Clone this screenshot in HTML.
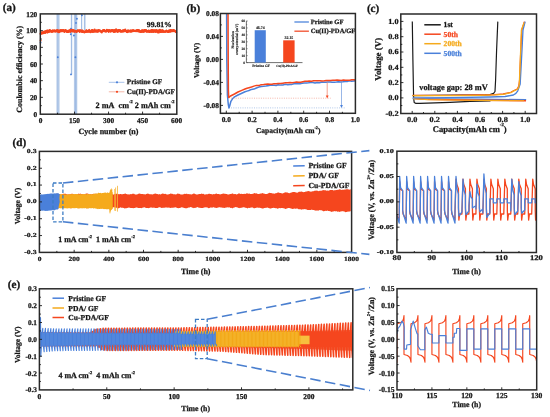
<!DOCTYPE html>
<html><head><meta charset="utf-8"><style>
html,body{margin:0;padding:0;background:#fff;width:550px;height:417px;overflow:hidden;font-family:"Liberation Serif",serif;}
svg{display:block;filter:blur(0.35px);} text{text-rendering:geometricPrecision;}
</style></head><body>
<svg width="550" height="417" viewBox="0 0 550 417">
<rect width="550" height="417" fill="#fff"/>
<text x="9.25" y="8.45" font-size="11.2" text-anchor="middle" dominant-baseline="central" fill="#151515" stroke="#151515" stroke-width="0.3" font-family="Liberation Serif" font-weight="bold">(a)</text>
<rect x="56.4" y="13.9" width="3.20" height="100.10" fill="#bdd0ea"/>
<rect x="70.8" y="13.9" width="1.50" height="60.70" fill="#bdd0ea"/>
<rect x="73.9" y="13.9" width="3.40" height="100.10" fill="#bdd0ea"/>
<rect x="81.0" y="13.9" width="1.20" height="16.10" fill="#bdd0ea"/>
<rect x="83.9" y="13.9" width="1.60" height="16.10" fill="#bdd0ea"/>
<line x1="57.90" y1="13.90" x2="57.90" y2="114.00" stroke="#8fb0e0" stroke-width="0.6" />
<line x1="71.50" y1="13.90" x2="71.50" y2="74.60" stroke="#8fb0e0" stroke-width="0.6" />
<line x1="75.20" y1="13.90" x2="75.20" y2="114.00" stroke="#8fb0e0" stroke-width="0.6" />
<line x1="76.00" y1="13.90" x2="76.00" y2="114.00" stroke="#8fb0e0" stroke-width="0.6" />
<line x1="81.60" y1="13.90" x2="81.60" y2="30.00" stroke="#8fb0e0" stroke-width="0.6" />
<line x1="84.70" y1="13.90" x2="84.70" y2="30.00" stroke="#8fb0e0" stroke-width="0.6" />
<circle cx="57.80" cy="57.20" r="0.95" fill="#4a80da"/>
<circle cx="71.00" cy="74.40" r="0.95" fill="#4a80da"/>
<circle cx="75.40" cy="57.30" r="0.95" fill="#4a80da"/>
<circle cx="76.90" cy="18.80" r="0.95" fill="#4a80da"/>
<circle cx="76.00" cy="22.90" r="0.95" fill="#4a80da"/>
<circle cx="81.90" cy="15.20" r="0.95" fill="#4a80da"/>
<circle cx="71.00" cy="28.80" r="0.95" fill="#4a80da"/>
<circle cx="70.80" cy="34.30" r="0.95" fill="#4a80da"/>
<circle cx="73.90" cy="35.50" r="0.95" fill="#4a80da"/>
<circle cx="40.60" cy="42.40" r="0.95" fill="#4a80da"/>
<path d="M40.50,33.55 40.84,33.92 41.18,32.30 41.52,33.49 41.86,32.42 42.20,32.73 42.54,33.33 42.88,32.30 43.22,33.25 43.56,32.33 43.90,33.06 44.24,32.95 44.58,32.16 44.92,31.23 45.26,32.69 45.60,32.41 45.94,31.47 46.28,30.72 46.62,31.46 46.96,31.79 47.30,30.47 47.65,32.42 47.99,30.60 48.33,31.77 48.67,32.02 49.01,32.02 49.35,31.54 49.69,30.32 50.03,31.69 50.37,30.82 50.71,30.70 51.05,31.28 51.39,30.90 51.73,31.95 52.07,31.95 52.41,31.64 52.75,30.61 53.09,31.16 53.43,31.40 53.77,30.81 54.11,31.10 54.45,31.43 54.79,30.36 55.13,30.57 55.47,31.55 55.81,30.84 56.15,30.95 56.49,30.19 56.83,30.50 57.17,31.46 57.51,29.96 57.85,31.83 58.19,31.18 58.53,30.44 58.87,31.75 59.21,31.02 59.55,32.00 59.89,30.64 60.23,30.43 60.57,30.84 60.91,30.19 61.26,31.40 61.60,30.58 61.94,30.80 62.28,30.83 62.62,31.09 62.96,30.26 63.30,30.04 63.64,31.06 63.98,30.64 64.32,31.95 64.66,30.56 65.00,30.68 65.34,29.93 65.68,30.30 66.02,31.47 66.36,31.25 66.70,30.63 67.04,32.03 67.38,31.08 67.72,31.72 68.06,31.83 68.40,31.96 68.74,30.42 69.08,31.80 69.42,31.55 69.76,31.24 70.10,30.20 70.44,31.91 70.78,31.11 71.12,30.89 71.46,30.17 71.80,30.31 72.14,30.21 72.48,31.48 72.82,31.18 73.16,31.31 73.50,30.17 73.84,30.01 74.18,31.76 74.53,31.70 74.87,31.58 75.21,31.58 75.55,31.03 75.89,30.81 76.23,31.51 76.57,32.07 76.91,31.18 77.25,31.28 77.59,30.86 77.93,30.02 78.27,30.59 78.61,30.97 78.95,30.75 79.29,30.62 79.63,31.97 79.97,30.13 80.31,30.39 80.65,30.19 80.99,30.35 81.33,31.23 81.67,31.22 82.01,31.86 82.35,30.71 82.69,31.95 83.03,31.94 83.37,31.63 83.71,31.73 84.05,31.35 84.39,31.97 84.73,32.08 85.07,31.76 85.41,31.86 85.75,31.30 86.09,32.03 86.43,30.19 86.77,30.75 87.11,31.76 87.45,31.54 87.79,31.33 88.13,31.29 88.48,31.82 88.82,30.24 89.16,29.93 89.50,31.07 89.84,31.04 90.18,31.90 90.52,31.86 90.86,31.34 91.20,31.51 91.54,30.29 91.88,31.73 92.22,32.03 92.56,30.02 92.90,30.94 93.24,31.77 93.58,30.91 93.92,32.02 94.26,30.94 94.60,29.96 94.94,30.21 95.28,30.57 95.62,31.52 95.96,31.29 96.30,31.72 96.64,30.41 96.98,30.93 97.32,30.40 97.66,31.37 98.00,31.60 98.34,30.33 98.68,29.95 99.02,30.24 99.36,30.34 99.70,30.31 100.04,30.48 100.38,31.59 100.72,30.96 101.06,31.31 101.40,32.02 101.75,32.02 102.09,31.48 102.43,31.52 102.77,30.58 103.11,30.01 103.45,31.11 103.79,30.05 104.13,29.94 104.47,30.01 104.81,31.29 105.15,31.61 105.49,31.59 105.83,31.66 106.17,31.64 106.51,30.73 106.85,30.13 107.19,30.26 107.53,31.04 107.87,30.67 108.21,30.35 108.55,31.90 108.89,30.65 109.23,30.11 109.57,30.39 109.91,30.46 110.25,31.05 110.59,31.70 110.93,30.37 111.27,31.36 111.61,30.35 111.95,29.98 112.29,31.23 112.63,31.21 112.97,30.03 113.31,30.51 113.65,31.71 113.99,31.81 114.33,31.76 114.67,30.12 115.01,30.34 115.36,31.77 115.70,30.29 116.04,29.96 116.38,30.66 116.72,31.32 117.06,30.89 117.40,31.80 117.74,32.05 118.08,29.98 118.42,30.68 118.76,30.94 119.10,30.06 119.44,31.14 119.78,30.19 120.12,30.29 120.46,31.63 120.80,31.54 121.14,31.45 121.48,31.56 121.82,30.81 122.16,31.52 122.50,31.18 122.84,31.80 123.18,30.11 123.52,31.32 123.86,31.09 124.20,30.82 124.54,30.12 124.88,31.17 125.22,30.09 125.56,31.00 125.90,30.93 126.24,30.95 126.58,32.04 126.92,31.13 127.26,31.69 127.60,32.07 127.94,30.35 128.28,31.71 128.62,31.06 128.97,30.51 129.31,30.88 129.65,31.38 129.99,30.96 130.33,30.88 130.67,30.38 131.01,31.85 131.35,30.87 131.69,31.54 132.03,31.48 132.37,30.41 132.71,30.98 133.05,30.87 133.39,30.44 133.73,30.11 134.07,31.12 134.41,30.76 134.75,30.99 135.09,30.97 135.43,30.58 135.77,31.10 136.11,30.93 136.45,31.05 136.79,30.04 137.13,30.57 137.47,30.18 137.81,30.04 138.15,31.52 138.49,30.87 138.83,30.04 139.17,30.26 139.51,31.79 139.85,31.82 140.19,31.13 140.53,31.93 140.87,31.56 141.21,31.92 141.55,30.63 141.89,30.38 142.23,30.14 142.57,31.75 142.92,30.53 143.26,30.65 143.60,31.77 143.94,30.17 144.28,29.99 144.62,31.61 144.96,30.02 145.30,31.22 145.64,31.03 145.98,29.94 146.32,30.28 146.66,31.73 147.00,31.15 147.34,30.97 147.68,31.35 148.02,31.66 148.36,31.39 148.70,30.52 149.04,32.04 149.38,30.88 149.72,31.13 150.06,32.04 150.40,31.37 150.74,30.73 151.08,30.97 151.42,31.94 151.76,29.95 152.10,30.38 152.44,29.98 152.78,31.86 153.12,31.51 153.46,32.00 153.80,30.40 154.14,31.50 154.48,31.80 154.82,31.17 155.16,30.11 155.50,30.31 155.84,31.52 156.19,31.76 156.53,30.09 156.87,30.85 157.21,30.57 157.55,31.89 157.89,31.96 158.23,30.59 158.57,31.16 158.91,31.93 159.25,30.05 159.59,30.71 159.93,30.35 160.27,31.90 160.61,30.23 160.95,31.94 161.29,30.21 161.63,31.10 161.97,31.35 162.31,30.89 162.65,30.08 162.99,31.50 163.33,31.80 163.67,30.94 164.01,31.57 164.35,31.85 164.69,31.73 165.03,31.97 165.37,31.65 165.71,31.41 166.05,31.42 166.39,30.44 166.73,31.46 167.07,31.00 167.41,31.70 167.75,31.33 168.09,32.04 168.43,31.54 168.77,32.05 169.11,30.49 169.45,30.89 169.79,31.67 170.14,31.05 170.48,30.06 170.82,31.85 171.16,30.31 171.50,31.15 171.84,31.01 172.18,30.28 172.52,31.23 172.86,30.99 173.20,30.59 173.54,29.95 173.88,31.34 174.22,30.28 174.56,30.55 174.90,30.71 175.24,31.21 175.58,31.33 175.92,31.97 176.26,31.80 176.60,31.93" stroke="#f5461e" stroke-width="2.0" fill="none" stroke-linejoin="round" />
<circle cx="40.50" cy="33.84" r="1.0" fill="#f5461e"/>
<circle cx="41.52" cy="33.20" r="1.0" fill="#f5461e"/>
<circle cx="42.54" cy="32.93" r="1.0" fill="#f5461e"/>
<circle cx="43.56" cy="31.83" r="1.0" fill="#f5461e"/>
<circle cx="44.58" cy="32.57" r="1.0" fill="#f5461e"/>
<circle cx="45.60" cy="32.86" r="1.0" fill="#f5461e"/>
<circle cx="46.62" cy="31.66" r="1.0" fill="#f5461e"/>
<circle cx="47.65" cy="32.16" r="1.0" fill="#f5461e"/>
<circle cx="48.67" cy="31.71" r="1.0" fill="#f5461e"/>
<circle cx="49.69" cy="30.07" r="1.0" fill="#f5461e"/>
<circle cx="50.71" cy="30.65" r="1.0" fill="#f5461e"/>
<circle cx="51.73" cy="31.54" r="1.0" fill="#f5461e"/>
<circle cx="52.75" cy="30.54" r="1.0" fill="#f5461e"/>
<circle cx="53.77" cy="30.53" r="1.0" fill="#f5461e"/>
<circle cx="54.79" cy="30.92" r="1.0" fill="#f5461e"/>
<circle cx="55.81" cy="31.41" r="1.0" fill="#f5461e"/>
<circle cx="56.83" cy="30.56" r="1.0" fill="#f5461e"/>
<circle cx="57.85" cy="31.52" r="1.0" fill="#f5461e"/>
<circle cx="58.87" cy="32.31" r="1.0" fill="#f5461e"/>
<circle cx="59.89" cy="30.41" r="1.0" fill="#f5461e"/>
<circle cx="60.91" cy="30.01" r="1.0" fill="#f5461e"/>
<circle cx="61.94" cy="30.20" r="1.0" fill="#f5461e"/>
<circle cx="62.96" cy="30.12" r="1.0" fill="#f5461e"/>
<circle cx="63.98" cy="30.61" r="1.0" fill="#f5461e"/>
<circle cx="65.00" cy="30.68" r="1.0" fill="#f5461e"/>
<circle cx="66.02" cy="31.11" r="1.0" fill="#f5461e"/>
<circle cx="67.04" cy="32.04" r="1.0" fill="#f5461e"/>
<circle cx="68.06" cy="31.24" r="1.0" fill="#f5461e"/>
<circle cx="69.08" cy="31.52" r="1.0" fill="#f5461e"/>
<circle cx="70.10" cy="29.70" r="1.0" fill="#f5461e"/>
<circle cx="71.12" cy="30.77" r="1.0" fill="#f5461e"/>
<circle cx="72.14" cy="29.66" r="1.0" fill="#f5461e"/>
<circle cx="73.16" cy="30.73" r="1.0" fill="#f5461e"/>
<circle cx="74.18" cy="31.52" r="1.0" fill="#f5461e"/>
<circle cx="75.21" cy="31.26" r="1.0" fill="#f5461e"/>
<circle cx="76.23" cy="31.62" r="1.0" fill="#f5461e"/>
<circle cx="77.25" cy="31.32" r="1.0" fill="#f5461e"/>
<circle cx="78.27" cy="30.89" r="1.0" fill="#f5461e"/>
<circle cx="79.29" cy="30.81" r="1.0" fill="#f5461e"/>
<circle cx="80.31" cy="30.65" r="1.0" fill="#f5461e"/>
<circle cx="81.33" cy="31.69" r="1.0" fill="#f5461e"/>
<circle cx="82.35" cy="30.58" r="1.0" fill="#f5461e"/>
<circle cx="83.37" cy="31.42" r="1.0" fill="#f5461e"/>
<circle cx="84.39" cy="32.55" r="1.0" fill="#f5461e"/>
<circle cx="85.41" cy="31.44" r="1.0" fill="#f5461e"/>
<circle cx="86.43" cy="30.46" r="1.0" fill="#f5461e"/>
<circle cx="87.45" cy="31.71" r="1.0" fill="#f5461e"/>
<circle cx="88.48" cy="31.27" r="1.0" fill="#f5461e"/>
<circle cx="89.50" cy="31.48" r="1.0" fill="#f5461e"/>
<circle cx="90.52" cy="32.33" r="1.0" fill="#f5461e"/>
<circle cx="91.54" cy="30.44" r="1.0" fill="#f5461e"/>
<circle cx="92.56" cy="30.30" r="1.0" fill="#f5461e"/>
<circle cx="93.58" cy="31.28" r="1.0" fill="#f5461e"/>
<circle cx="94.60" cy="29.53" r="1.0" fill="#f5461e"/>
<circle cx="95.62" cy="31.55" r="1.0" fill="#f5461e"/>
<circle cx="96.64" cy="30.42" r="1.0" fill="#f5461e"/>
<circle cx="97.66" cy="31.77" r="1.0" fill="#f5461e"/>
<circle cx="98.68" cy="30.31" r="1.0" fill="#f5461e"/>
<circle cx="99.70" cy="30.70" r="1.0" fill="#f5461e"/>
<circle cx="100.72" cy="31.06" r="1.0" fill="#f5461e"/>
<circle cx="101.75" cy="32.49" r="1.0" fill="#f5461e"/>
<circle cx="102.77" cy="30.80" r="1.0" fill="#f5461e"/>
<circle cx="103.79" cy="30.29" r="1.0" fill="#f5461e"/>
<circle cx="104.81" cy="30.97" r="1.0" fill="#f5461e"/>
<circle cx="105.83" cy="31.09" r="1.0" fill="#f5461e"/>
<circle cx="106.85" cy="29.69" r="1.0" fill="#f5461e"/>
<circle cx="107.87" cy="30.50" r="1.0" fill="#f5461e"/>
<circle cx="108.89" cy="30.18" r="1.0" fill="#f5461e"/>
<circle cx="109.91" cy="30.86" r="1.0" fill="#f5461e"/>
<circle cx="110.93" cy="30.44" r="1.0" fill="#f5461e"/>
<circle cx="111.95" cy="30.13" r="1.0" fill="#f5461e"/>
<circle cx="112.97" cy="30.18" r="1.0" fill="#f5461e"/>
<circle cx="113.99" cy="32.02" r="1.0" fill="#f5461e"/>
<circle cx="115.01" cy="30.32" r="1.0" fill="#f5461e"/>
<circle cx="116.04" cy="29.36" r="1.0" fill="#f5461e"/>
<circle cx="117.06" cy="31.25" r="1.0" fill="#f5461e"/>
<circle cx="118.08" cy="30.28" r="1.0" fill="#f5461e"/>
<circle cx="119.10" cy="30.06" r="1.0" fill="#f5461e"/>
<circle cx="120.12" cy="30.34" r="1.0" fill="#f5461e"/>
<circle cx="121.14" cy="31.64" r="1.0" fill="#f5461e"/>
<circle cx="122.16" cy="31.00" r="1.0" fill="#f5461e"/>
<circle cx="123.18" cy="30.40" r="1.0" fill="#f5461e"/>
<circle cx="124.20" cy="30.52" r="1.0" fill="#f5461e"/>
<circle cx="125.22" cy="29.58" r="1.0" fill="#f5461e"/>
<circle cx="126.24" cy="30.67" r="1.0" fill="#f5461e"/>
<circle cx="127.26" cy="31.96" r="1.0" fill="#f5461e"/>
<circle cx="128.28" cy="31.36" r="1.0" fill="#f5461e"/>
<circle cx="129.31" cy="31.17" r="1.0" fill="#f5461e"/>
<circle cx="130.33" cy="31.45" r="1.0" fill="#f5461e"/>
<circle cx="131.35" cy="30.86" r="1.0" fill="#f5461e"/>
<circle cx="132.37" cy="30.27" r="1.0" fill="#f5461e"/>
<circle cx="133.39" cy="30.41" r="1.0" fill="#f5461e"/>
<circle cx="134.41" cy="30.98" r="1.0" fill="#f5461e"/>
<circle cx="135.43" cy="30.90" r="1.0" fill="#f5461e"/>
<circle cx="136.45" cy="31.19" r="1.0" fill="#f5461e"/>
<circle cx="137.47" cy="30.36" r="1.0" fill="#f5461e"/>
<circle cx="138.49" cy="30.36" r="1.0" fill="#f5461e"/>
<circle cx="139.51" cy="31.36" r="1.0" fill="#f5461e"/>
<circle cx="140.53" cy="31.63" r="1.0" fill="#f5461e"/>
<circle cx="141.55" cy="30.92" r="1.0" fill="#f5461e"/>
<circle cx="142.57" cy="31.51" r="1.0" fill="#f5461e"/>
<circle cx="143.60" cy="31.85" r="1.0" fill="#f5461e"/>
<circle cx="144.62" cy="31.02" r="1.0" fill="#f5461e"/>
<circle cx="145.64" cy="30.50" r="1.0" fill="#f5461e"/>
<circle cx="146.66" cy="31.46" r="1.0" fill="#f5461e"/>
<circle cx="147.68" cy="31.55" r="1.0" fill="#f5461e"/>
<circle cx="148.70" cy="30.75" r="1.0" fill="#f5461e"/>
<circle cx="149.72" cy="31.34" r="1.0" fill="#f5461e"/>
<circle cx="150.74" cy="30.48" r="1.0" fill="#f5461e"/>
<circle cx="151.76" cy="29.97" r="1.0" fill="#f5461e"/>
<circle cx="152.78" cy="31.81" r="1.0" fill="#f5461e"/>
<circle cx="153.80" cy="30.36" r="1.0" fill="#f5461e"/>
<circle cx="154.82" cy="30.71" r="1.0" fill="#f5461e"/>
<circle cx="155.84" cy="32.00" r="1.0" fill="#f5461e"/>
<circle cx="156.87" cy="30.49" r="1.0" fill="#f5461e"/>
<circle cx="157.89" cy="32.53" r="1.0" fill="#f5461e"/>
<circle cx="158.91" cy="32.45" r="1.0" fill="#f5461e"/>
<circle cx="159.93" cy="29.77" r="1.0" fill="#f5461e"/>
<circle cx="160.95" cy="31.89" r="1.0" fill="#f5461e"/>
<circle cx="161.97" cy="31.73" r="1.0" fill="#f5461e"/>
<circle cx="162.99" cy="32.06" r="1.0" fill="#f5461e"/>
<circle cx="164.01" cy="31.51" r="1.0" fill="#f5461e"/>
<circle cx="165.03" cy="31.70" r="1.0" fill="#f5461e"/>
<circle cx="166.05" cy="31.07" r="1.0" fill="#f5461e"/>
<circle cx="167.07" cy="31.53" r="1.0" fill="#f5461e"/>
<circle cx="168.09" cy="31.70" r="1.0" fill="#f5461e"/>
<circle cx="169.11" cy="30.59" r="1.0" fill="#f5461e"/>
<circle cx="170.14" cy="30.62" r="1.0" fill="#f5461e"/>
<circle cx="171.16" cy="30.34" r="1.0" fill="#f5461e"/>
<circle cx="172.18" cy="30.82" r="1.0" fill="#f5461e"/>
<circle cx="173.20" cy="30.15" r="1.0" fill="#f5461e"/>
<circle cx="174.22" cy="30.66" r="1.0" fill="#f5461e"/>
<circle cx="175.24" cy="31.22" r="1.0" fill="#f5461e"/>
<circle cx="176.26" cy="32.27" r="1.0" fill="#f5461e"/>
<circle cx="40.6" cy="40.6" r="1" fill="#f5461e"/>
<rect x="40.30" y="13.90" width="136.50" height="100.30" fill="none" stroke="#2a2a2a" stroke-width="1.5"/>
<path d="M57.51,114.20v-1.5M74.53,114.20v-2.6M91.54,114.20v-1.5M108.55,114.20v-2.6M125.56,114.20v-1.5M142.57,114.20v-2.6M159.59,114.20v-1.5M40.30,105.67h1.5M40.30,97.33h2.6M40.30,89.00h1.5M40.30,80.67h2.6M40.30,72.33h1.5M40.30,64.00h2.6M40.30,55.67h1.5M40.30,47.33h2.6M40.30,39.00h1.5M40.30,30.67h2.6M40.30,22.33h1.5" stroke="#1a1a1a" stroke-width="0.9" fill="none"/>
<text x="40.50" y="120.30" font-size="7.4" text-anchor="middle" dominant-baseline="central" fill="#151515" stroke="#151515" stroke-width="0.25" font-family="Liberation Serif" font-weight="bold">0</text>
<text x="74.53" y="120.30" font-size="7.4" text-anchor="middle" dominant-baseline="central" fill="#151515" stroke="#151515" stroke-width="0.25" font-family="Liberation Serif" font-weight="bold">150</text>
<text x="108.55" y="120.30" font-size="7.4" text-anchor="middle" dominant-baseline="central" fill="#151515" stroke="#151515" stroke-width="0.25" font-family="Liberation Serif" font-weight="bold">300</text>
<text x="142.57" y="120.30" font-size="7.4" text-anchor="middle" dominant-baseline="central" fill="#151515" stroke="#151515" stroke-width="0.25" font-family="Liberation Serif" font-weight="bold">450</text>
<text x="176.60" y="120.30" font-size="7.4" text-anchor="middle" dominant-baseline="central" fill="#151515" stroke="#151515" stroke-width="0.25" font-family="Liberation Serif" font-weight="bold">600</text>
<text x="37.30" y="114.00" font-size="7.4" text-anchor="end" dominant-baseline="central" fill="#151515" stroke="#151515" stroke-width="0.25" font-family="Liberation Serif" font-weight="bold">0</text>
<text x="37.30" y="97.33" font-size="7.4" text-anchor="end" dominant-baseline="central" fill="#151515" stroke="#151515" stroke-width="0.25" font-family="Liberation Serif" font-weight="bold">20</text>
<text x="37.30" y="80.67" font-size="7.4" text-anchor="end" dominant-baseline="central" fill="#151515" stroke="#151515" stroke-width="0.25" font-family="Liberation Serif" font-weight="bold">40</text>
<text x="37.30" y="64.00" font-size="7.4" text-anchor="end" dominant-baseline="central" fill="#151515" stroke="#151515" stroke-width="0.25" font-family="Liberation Serif" font-weight="bold">60</text>
<text x="37.30" y="47.33" font-size="7.4" text-anchor="end" dominant-baseline="central" fill="#151515" stroke="#151515" stroke-width="0.25" font-family="Liberation Serif" font-weight="bold">80</text>
<text x="37.30" y="30.67" font-size="7.4" text-anchor="end" dominant-baseline="central" fill="#151515" stroke="#151515" stroke-width="0.25" font-family="Liberation Serif" font-weight="bold">100</text>
<text x="37.30" y="14.00" font-size="7.4" text-anchor="end" dominant-baseline="central" fill="#151515" stroke="#151515" stroke-width="0.25" font-family="Liberation Serif" font-weight="bold">120</text>
<text x="108.50" y="131.50" font-size="8.0" text-anchor="middle" dominant-baseline="central" fill="#151515" stroke="#151515" stroke-width="0.25" font-family="Liberation Serif" font-weight="bold">Cycle number (n)</text>
<text x="19.70" y="69.30" font-size="8.0" text-anchor="middle" dominant-baseline="central" fill="#151515" stroke="#151515" stroke-width="0.25" font-family="Liberation Serif" font-weight="bold" transform="rotate(-90 19.70 69.30)">Coulombic efficiency (%)</text>
<text x="159.30" y="24.00" font-size="7.7" text-anchor="middle" dominant-baseline="central" fill="#151515" stroke="#151515" stroke-width="0.25" font-family="Liberation Serif" font-weight="bold">99.81%</text>
<line x1="108.80" y1="82.30" x2="124.40" y2="82.30" stroke="#a9c3ea" stroke-width="1.0" />
<circle cx="117" cy="82.3" r="1.1" fill="#4a80da"/>
<line x1="108.80" y1="91.80" x2="124.40" y2="91.80" stroke="#f4b7a8" stroke-width="1.0" />
<circle cx="117" cy="91.8" r="1.1" fill="#f5461e"/>
<text x="126.80" y="82.30" font-size="7.1" text-anchor="start" dominant-baseline="central" fill="#151515" stroke="#151515" stroke-width="0.25" font-family="Liberation Serif" font-weight="bold">Pristine GF</text>
<text x="126.80" y="91.80" font-size="7.1" text-anchor="start" dominant-baseline="central" fill="#151515" stroke="#151515" stroke-width="0.25" font-family="Liberation Serif" font-weight="bold">Cu(II)-PDA/GF</text>
<text x="95.60" y="104.60" font-size="8.2" text-anchor="start" dominant-baseline="central" fill="#151515" stroke="#151515" stroke-width="0.25" font-family="Liberation Serif" font-weight="bold" xml:space="preserve"><tspan>2 mA&#160;&#160;cm</tspan><tspan font-size="4.51" dy="-3.12">-2</tspan><tspan dy="3.12"> 2 mAh cm</tspan><tspan font-size="4.51" dy="-3.12">-2</tspan></text>
<text x="193.35" y="8.95" font-size="11.2" text-anchor="middle" dominant-baseline="central" fill="#151515" stroke="#151515" stroke-width="0.3" font-family="Liberation Serif" font-weight="bold">(b)</text>
<defs><clipPath id="cb"><rect x="220.4" y="13.5" width="134.99999999999997" height="99.8"/></clipPath></defs>
<g clip-path="url(#cb)">
<path d="M226.60,10.00 226.80,60.00 227.40,95.00 228.30,104.50 229.00,108.10 229.80,105.50 230.90,101.30 232.50,98.80 234.50,96.90 238.00,95.00 241.80,93.30 245.00,91.80 247.00,91.10 249.00,90.54 251.47,89.41 253.93,89.08 256.40,87.99 258.80,87.10 261.20,86.52 263.60,86.29 265.73,86.03 267.87,85.69 270.00,85.35 272.05,85.37 274.10,85.22 276.15,85.46 278.20,84.75 280.56,85.12 282.92,85.02 285.28,84.35 287.64,84.76 290.00,84.45 292.00,84.40 294.00,83.79 296.00,83.67 298.00,83.51 300.00,83.75 302.14,83.36 304.29,83.10 306.43,83.05 308.57,82.84 310.71,82.58 312.86,82.52 315.00,82.93 317.14,82.46 319.29,82.83 321.43,82.27 323.57,82.19 325.71,82.28 327.86,81.97 330.00,82.01 332.14,82.32 334.29,82.17 336.43,82.02 338.57,81.79 340.71,81.89 342.86,81.81 345.00,81.43 347.20,81.43 349.40,80.84 351.60,81.20 353.80,80.89 356.00,80.80" stroke="#4a80da" stroke-width="1.5" fill="none" stroke-linejoin="round" />
<path d="M228.00,10.00 228.20,60.00 228.40,90.00 228.70,97.60 230.50,96.00 232.50,95.00 234.50,94.00 238.00,92.00 241.80,90.40 245.00,89.00 247.00,88.25 249.00,87.68 251.47,87.00 253.93,86.15 256.40,85.38 258.80,85.60 261.20,84.64 263.60,84.48 265.73,84.22 267.87,84.03 270.00,84.17 272.05,84.23 274.10,83.63 276.15,83.81 278.20,83.46 280.56,83.46 282.92,83.17 285.28,82.83 287.64,82.64 290.00,82.50 292.14,82.83 294.29,82.38 296.43,82.03 298.57,82.36 300.71,82.26 302.86,81.72 305.00,81.35 307.14,81.27 309.29,81.08 311.43,81.15 313.57,80.86 315.71,80.85 317.86,80.75 320.00,80.85 322.14,81.01 324.29,80.86 326.43,80.57 328.57,80.51 330.71,80.53 332.86,80.37 335.00,80.29 337.10,80.04 339.20,80.14 341.30,80.58 343.40,79.94 345.50,80.15 347.60,80.19 349.70,80.30 351.80,79.80 353.90,79.79 356.00,79.90" stroke="#f5461e" stroke-width="1.5" fill="none" stroke-linejoin="round" />
</g>
<line x1="231.00" y1="98.20" x2="330.70" y2="98.20" stroke="#f09a88" stroke-width="0.7" stroke-dasharray="1,1.3"/>
<line x1="231.00" y1="107.90" x2="344.70" y2="107.90" stroke="#8fb0e0" stroke-width="0.7" stroke-dasharray="1,1.3"/>
<line x1="327.20" y1="82.50" x2="327.20" y2="96.30" stroke="#f07a60" stroke-width="0.7" />
<path d="M325.8,95.4 L327.2,98.4 L328.6,95.4 Z" fill="#f5461e"/>
<line x1="341.50" y1="82.00" x2="341.50" y2="105.80" stroke="#6d98dc" stroke-width="0.7" />
<path d="M340.1,105.0 L341.5,108.0 L342.9,105.0 Z" fill="#4a80da"/>
<rect x="220.40" y="13.50" width="135.00" height="99.80" fill="none" stroke="#2a2a2a" stroke-width="1.5"/>
<path d="M226.30,113.30v-2.6M239.20,113.30v-1.5M252.10,113.30v-2.6M265.00,113.30v-1.5M277.90,113.30v-2.6M290.80,113.30v-1.5M303.70,113.30v-2.6M316.60,113.30v-1.5M329.50,113.30v-2.6M342.40,113.30v-1.5M220.40,105.40h2.6M220.40,93.90h1.5M220.40,82.40h2.6M220.40,70.90h1.5M220.40,59.40h2.6M220.40,47.90h1.5M220.40,36.40h2.6M220.40,24.90h1.5" stroke="#1a1a1a" stroke-width="0.9" fill="none"/>
<text x="226.30" y="119.00" font-size="7.4" text-anchor="middle" dominant-baseline="central" fill="#151515" stroke="#151515" stroke-width="0.25" font-family="Liberation Serif" font-weight="bold">0.0</text>
<text x="252.10" y="119.00" font-size="7.4" text-anchor="middle" dominant-baseline="central" fill="#151515" stroke="#151515" stroke-width="0.25" font-family="Liberation Serif" font-weight="bold">0.2</text>
<text x="277.90" y="119.00" font-size="7.4" text-anchor="middle" dominant-baseline="central" fill="#151515" stroke="#151515" stroke-width="0.25" font-family="Liberation Serif" font-weight="bold">0.4</text>
<text x="303.70" y="119.00" font-size="7.4" text-anchor="middle" dominant-baseline="central" fill="#151515" stroke="#151515" stroke-width="0.25" font-family="Liberation Serif" font-weight="bold">0.6</text>
<text x="329.50" y="119.00" font-size="7.4" text-anchor="middle" dominant-baseline="central" fill="#151515" stroke="#151515" stroke-width="0.25" font-family="Liberation Serif" font-weight="bold">0.8</text>
<text x="355.30" y="119.00" font-size="7.4" text-anchor="middle" dominant-baseline="central" fill="#151515" stroke="#151515" stroke-width="0.25" font-family="Liberation Serif" font-weight="bold">1.0</text>
<text x="218.90" y="105.40" font-size="7.4" text-anchor="end" dominant-baseline="central" fill="#151515" stroke="#151515" stroke-width="0.25" font-family="Liberation Serif" font-weight="bold">-0.08</text>
<text x="218.90" y="82.40" font-size="7.4" text-anchor="end" dominant-baseline="central" fill="#151515" stroke="#151515" stroke-width="0.25" font-family="Liberation Serif" font-weight="bold">-0.04</text>
<text x="218.90" y="59.40" font-size="7.4" text-anchor="end" dominant-baseline="central" fill="#151515" stroke="#151515" stroke-width="0.25" font-family="Liberation Serif" font-weight="bold">0.00</text>
<text x="218.90" y="36.40" font-size="7.4" text-anchor="end" dominant-baseline="central" fill="#151515" stroke="#151515" stroke-width="0.25" font-family="Liberation Serif" font-weight="bold">0.04</text>
<text x="218.90" y="13.40" font-size="7.4" text-anchor="end" dominant-baseline="central" fill="#151515" stroke="#151515" stroke-width="0.25" font-family="Liberation Serif" font-weight="bold">0.08</text>
<text x="288.20" y="129.50" font-size="7.5" text-anchor="middle" dominant-baseline="central" fill="#151515" stroke="#151515" stroke-width="0.25" font-family="Liberation Serif" font-weight="bold" xml:space="preserve"><tspan>Capacity(mAh cm</tspan><tspan font-size="4.125" dy="-2.85">-2</tspan><tspan dy="2.85">)</tspan></text>
<text x="196.80" y="60.40" font-size="7.3" text-anchor="middle" dominant-baseline="central" fill="#151515" stroke="#151515" stroke-width="0.25" font-family="Liberation Serif" font-weight="bold" transform="rotate(-90 196.80 60.40)">Voltage (V)</text>
<line x1="294.40" y1="22.00" x2="308.90" y2="22.00" stroke="#5b8ede" stroke-width="1.4" />
<line x1="294.40" y1="31.20" x2="308.90" y2="31.20" stroke="#f25a3a" stroke-width="1.4" />
<text x="310.70" y="22.60" font-size="6.6" text-anchor="start" dominant-baseline="central" fill="#151515" stroke="#151515" stroke-width="0.25" font-family="Liberation Serif" font-weight="bold">Pristine GF</text>
<text x="310.70" y="31.80" font-size="6.6" text-anchor="start" dominant-baseline="central" fill="#151515" stroke="#151515" stroke-width="0.25" font-family="Liberation Serif" font-weight="bold">Cu(II)-PDA/GF</text>
<path d="M246.4,20.8V62.6H302.5" stroke="#333" stroke-width="0.7" fill="none"/>
<path d="M246.4,62.60h1.4M246.4,55.67h1.4M246.4,48.74h1.4M246.4,41.81h1.4M246.4,34.88h1.4M246.4,27.95h1.4M246.4,21.02h1.4M246.4,59.14h0.8M246.4,52.20h0.8M246.4,45.28h0.8M246.4,38.34h0.8M246.4,31.42h0.8M246.4,24.49h0.8" stroke="#333" stroke-width="0.5" fill="none"/>
<text x="245.10" y="62.60" font-size="3.6" text-anchor="end" dominant-baseline="central" fill="#2a2a2a" stroke="#2a2a2a" stroke-width="0.15" font-family="Liberation Serif" font-weight="bold">0</text>
<text x="245.10" y="55.67" font-size="3.6" text-anchor="end" dominant-baseline="central" fill="#2a2a2a" stroke="#2a2a2a" stroke-width="0.15" font-family="Liberation Serif" font-weight="bold">10</text>
<text x="245.10" y="48.74" font-size="3.6" text-anchor="end" dominant-baseline="central" fill="#2a2a2a" stroke="#2a2a2a" stroke-width="0.15" font-family="Liberation Serif" font-weight="bold">20</text>
<text x="245.10" y="41.81" font-size="3.6" text-anchor="end" dominant-baseline="central" fill="#2a2a2a" stroke="#2a2a2a" stroke-width="0.15" font-family="Liberation Serif" font-weight="bold">30</text>
<text x="245.10" y="34.88" font-size="3.6" text-anchor="end" dominant-baseline="central" fill="#2a2a2a" stroke="#2a2a2a" stroke-width="0.15" font-family="Liberation Serif" font-weight="bold">40</text>
<text x="245.10" y="27.95" font-size="3.6" text-anchor="end" dominant-baseline="central" fill="#2a2a2a" stroke="#2a2a2a" stroke-width="0.15" font-family="Liberation Serif" font-weight="bold">50</text>
<text x="245.10" y="21.02" font-size="3.6" text-anchor="end" dominant-baseline="central" fill="#2a2a2a" stroke="#2a2a2a" stroke-width="0.15" font-family="Liberation Serif" font-weight="bold">60</text>
<rect x="254.7" y="30.21" width="11.1" height="32.39" fill="#4a80da"/>
<rect x="283.2" y="40.32" width="11.4" height="22.28" fill="#f5461e"/>
<text x="260.30" y="28.20" font-size="3.9" text-anchor="middle" dominant-baseline="central" fill="#2a2a2a" stroke="#2a2a2a" stroke-width="0.15" font-family="Liberation Serif" font-weight="bold">46.74</text>
<text x="288.90" y="37.60" font-size="3.9" text-anchor="middle" dominant-baseline="central" fill="#2a2a2a" stroke="#2a2a2a" stroke-width="0.15" font-family="Liberation Serif" font-weight="bold">32.15</text>
<text x="261.10" y="66.20" font-size="3.6" text-anchor="middle" dominant-baseline="central" fill="#2a2a2a" stroke="#2a2a2a" stroke-width="0.15" font-family="Liberation Serif" font-weight="bold">Pristine GF</text>
<text x="287.00" y="66.20" font-size="3.15" text-anchor="middle" dominant-baseline="central" fill="#2a2a2a" stroke="#2a2a2a" stroke-width="0.15" font-family="Liberation Serif" font-weight="bold">Cu(II)-PDA/GF</text>
<text x="232.80" y="39.80" font-size="3.8" text-anchor="middle" dominant-baseline="central" fill="#2a2a2a" stroke="#2a2a2a" stroke-width="0.15" font-family="Liberation Serif" font-weight="bold" transform="rotate(-90 232.80 39.80)">Nucleation</text>
<text x="237.50" y="39.20" font-size="3.8" text-anchor="middle" dominant-baseline="central" fill="#2a2a2a" stroke="#2a2a2a" stroke-width="0.15" font-family="Liberation Serif" font-weight="bold" transform="rotate(-90 237.50 39.20)">overpotential (mV)</text>
<text x="373.10" y="9.15" font-size="11.2" text-anchor="middle" dominant-baseline="central" fill="#151515" stroke="#151515" stroke-width="0.3" font-family="Liberation Serif" font-weight="bold">(c)</text>
<defs><clipPath id="cc"><rect x="400.8" y="14.0" width="135.7" height="99.5"/></clipPath></defs>
<g clip-path="url(#cc)">
<path d="M412.30,21.60 412.90,60.00 413.60,98.00 414.20,102.40 415.60,103.30 420.00,103.40 450.00,102.40 470.00,101.40 490.50,100.90" stroke="#1a1a1a" stroke-width="1.2" fill="none" stroke-linejoin="round" />
<path d="M412.60,95.60 460.00,95.20 485.00,94.90 490.00,94.60 493.60,93.40 495.00,91.50 495.60,80.00 496.60,50.00 497.80,21.60" stroke="#1a1a1a" stroke-width="1.2" fill="none" stroke-linejoin="round" />
<path d="M412.60,98.60 440.00,98.90 480.00,99.30 526.20,99.70" stroke="#4a80da" stroke-width="1.4" fill="none" stroke-linejoin="round" />
<path d="M413.00,98.40 425.00,99.30 450.00,99.80 480.00,100.20 526.00,100.70" stroke="#f5461e" stroke-width="1.4" fill="none" stroke-linejoin="round" />
<path d="M413.00,98.60 428.00,99.60 450.00,100.00 480.00,100.40 524.00,100.80" stroke="#f5aa1c" stroke-width="1.1" fill="none" stroke-linejoin="round" />
<path d="M412.60,95.40 450.00,95.30 480.00,95.00 495.00,94.60 503.20,94.00 510.80,92.40 514.00,90.50 517.20,89.00 518.80,86.00 519.60,80.00 520.80,50.00 521.80,30.00 524.40,21.60" stroke="#f5461e" stroke-width="1.3" fill="none" stroke-linejoin="round" />
<path d="M412.60,97.90 450.00,97.60 490.00,97.00 505.00,96.50 513.40,95.00 515.90,93.40 517.80,90.80 520.20,84.00 522.00,50.00 523.00,30.00 525.20,21.60" stroke="#4a80da" stroke-width="1.3" fill="none" stroke-linejoin="round" />
<path d="M412.60,95.70 450.00,95.60 480.00,95.30 495.00,94.90 503.20,94.30 510.80,92.70 514.00,90.80 517.20,89.50 518.60,87.60 519.30,83.80 520.30,60.00 521.40,30.00 524.20,22.50" stroke="#f5aa1c" stroke-width="1.3" fill="none" stroke-linejoin="round" />
</g>
<rect x="400.80" y="14.00" width="135.70" height="99.50" fill="none" stroke="#2a2a2a" stroke-width="1.5"/>
<path d="M412.20,113.50v-2.6M423.50,113.50v-1.5M434.80,113.50v-2.6M446.10,113.50v-1.5M457.40,113.50v-2.6M468.70,113.50v-1.5M480.00,113.50v-2.6M491.30,113.50v-1.5M502.60,113.50v-2.6M513.90,113.50v-1.5M525.20,113.50v-2.6M400.80,105.55h1.5M400.80,97.90h2.6M400.80,90.25h1.5M400.80,82.60h2.6M400.80,74.95h1.5M400.80,67.30h2.6M400.80,59.65h1.5M400.80,52.00h2.6M400.80,44.35h1.5M400.80,36.70h2.6M400.80,29.05h1.5M400.80,21.40h2.6" stroke="#1a1a1a" stroke-width="0.9" fill="none"/>
<text x="412.20" y="119.20" font-size="8.3" text-anchor="middle" dominant-baseline="central" fill="#151515" stroke="#151515" stroke-width="0.25" font-family="Liberation Serif" font-weight="bold" transform="translate(412.20 119.20) scale(1.0 0.93) translate(-412.20 -119.20)">0.0</text>
<text x="434.80" y="119.20" font-size="8.3" text-anchor="middle" dominant-baseline="central" fill="#151515" stroke="#151515" stroke-width="0.25" font-family="Liberation Serif" font-weight="bold" transform="translate(434.80 119.20) scale(1.0 0.93) translate(-434.80 -119.20)">0.2</text>
<text x="457.40" y="119.20" font-size="8.3" text-anchor="middle" dominant-baseline="central" fill="#151515" stroke="#151515" stroke-width="0.25" font-family="Liberation Serif" font-weight="bold" transform="translate(457.40 119.20) scale(1.0 0.93) translate(-457.40 -119.20)">0.4</text>
<text x="480.00" y="119.20" font-size="8.3" text-anchor="middle" dominant-baseline="central" fill="#151515" stroke="#151515" stroke-width="0.25" font-family="Liberation Serif" font-weight="bold" transform="translate(480.00 119.20) scale(1.0 0.93) translate(-480.00 -119.20)">0.6</text>
<text x="502.60" y="119.20" font-size="8.3" text-anchor="middle" dominant-baseline="central" fill="#151515" stroke="#151515" stroke-width="0.25" font-family="Liberation Serif" font-weight="bold" transform="translate(502.60 119.20) scale(1.0 0.93) translate(-502.60 -119.20)">0.8</text>
<text x="525.20" y="119.20" font-size="8.3" text-anchor="middle" dominant-baseline="central" fill="#151515" stroke="#151515" stroke-width="0.25" font-family="Liberation Serif" font-weight="bold" transform="translate(525.20 119.20) scale(1.0 0.93) translate(-525.20 -119.20)">1.0</text>
<text x="398.60" y="113.20" font-size="8.3" text-anchor="end" dominant-baseline="central" fill="#151515" stroke="#151515" stroke-width="0.25" font-family="Liberation Serif" font-weight="bold" transform="translate(398.60 113.20) scale(1.0 0.93) translate(-398.60 -113.20)">-0.2</text>
<text x="398.60" y="97.90" font-size="8.3" text-anchor="end" dominant-baseline="central" fill="#151515" stroke="#151515" stroke-width="0.25" font-family="Liberation Serif" font-weight="bold" transform="translate(398.60 97.90) scale(1.0 0.93) translate(-398.60 -97.90)">0.0</text>
<text x="398.60" y="82.60" font-size="8.3" text-anchor="end" dominant-baseline="central" fill="#151515" stroke="#151515" stroke-width="0.25" font-family="Liberation Serif" font-weight="bold" transform="translate(398.60 82.60) scale(1.0 0.93) translate(-398.60 -82.60)">0.2</text>
<text x="398.60" y="67.30" font-size="8.3" text-anchor="end" dominant-baseline="central" fill="#151515" stroke="#151515" stroke-width="0.25" font-family="Liberation Serif" font-weight="bold" transform="translate(398.60 67.30) scale(1.0 0.93) translate(-398.60 -67.30)">0.4</text>
<text x="398.60" y="52.00" font-size="8.3" text-anchor="end" dominant-baseline="central" fill="#151515" stroke="#151515" stroke-width="0.25" font-family="Liberation Serif" font-weight="bold" transform="translate(398.60 52.00) scale(1.0 0.93) translate(-398.60 -52.00)">0.6</text>
<text x="398.60" y="36.70" font-size="8.3" text-anchor="end" dominant-baseline="central" fill="#151515" stroke="#151515" stroke-width="0.25" font-family="Liberation Serif" font-weight="bold" transform="translate(398.60 36.70) scale(1.0 0.93) translate(-398.60 -36.70)">0.8</text>
<text x="398.60" y="21.40" font-size="8.3" text-anchor="end" dominant-baseline="central" fill="#151515" stroke="#151515" stroke-width="0.25" font-family="Liberation Serif" font-weight="bold" transform="translate(398.60 21.40) scale(1.0 0.93) translate(-398.60 -21.40)">1.0</text>
<text x="469.70" y="128.50" font-size="8.6" text-anchor="middle" dominant-baseline="central" fill="#151515" stroke="#151515" stroke-width="0.25" font-family="Liberation Serif" font-weight="bold" xml:space="preserve"><tspan>Capacity(mAh cm</tspan><tspan font-size="4.73" dy="-3.27">-2</tspan><tspan dy="3.27">)</tspan></text>
<text x="378.40" y="59.30" font-size="8.9" text-anchor="middle" dominant-baseline="central" fill="#151515" stroke="#151515" stroke-width="0.25" font-family="Liberation Serif" font-weight="bold" transform="rotate(-90 378.40 59.30)">Voltage (V)</text>
<text x="453.50" y="87.30" font-size="8.3" text-anchor="middle" dominant-baseline="central" fill="#151515" stroke="#151515" stroke-width="0.25" font-family="Liberation Serif" font-weight="bold">voltage gap: 28 mV</text>
<line x1="424.30" y1="24.80" x2="440.80" y2="24.80" stroke="#1a1a1a" stroke-width="1.5" />
<text x="443.60" y="24.80" font-size="7.6" text-anchor="start" dominant-baseline="central" fill="#151515" stroke="#151515" stroke-width="0.25" font-family="Liberation Serif" font-weight="bold">1st</text>
<line x1="424.30" y1="34.20" x2="440.80" y2="34.20" stroke="#f5461e" stroke-width="1.5" />
<text x="443.60" y="34.20" font-size="7.6" text-anchor="start" dominant-baseline="central" fill="#f5461e" stroke="#f5461e" stroke-width="0.25" font-family="Liberation Serif" font-weight="bold">50th</text>
<line x1="424.30" y1="43.70" x2="440.80" y2="43.70" stroke="#f5aa1c" stroke-width="1.5" />
<text x="443.60" y="43.70" font-size="7.6" text-anchor="start" dominant-baseline="central" fill="#f5aa1c" stroke="#f5aa1c" stroke-width="0.25" font-family="Liberation Serif" font-weight="bold">200th</text>
<line x1="424.30" y1="53.30" x2="440.80" y2="53.30" stroke="#4a80da" stroke-width="1.5" />
<text x="443.60" y="53.30" font-size="7.6" text-anchor="start" dominant-baseline="central" fill="#4a80da" stroke="#4a80da" stroke-width="0.25" font-family="Liberation Serif" font-weight="bold">500th</text>
<text x="19.30" y="143.05" font-size="11.2" text-anchor="middle" dominant-baseline="central" fill="#151515" stroke="#151515" stroke-width="0.3" font-family="Liberation Serif" font-weight="bold">(d)</text>
<defs><clipPath id="cd"><rect x="39.4" y="151.4" width="312.20000000000005" height="101.0"/></clipPath></defs>
<g clip-path="url(#cd)">
<path d="M54.41,194.21 55.27,194.26 56.14,193.84 57.01,193.63 57.87,194.04 58.74,193.95 59.61,194.15 60.47,194.59 61.34,194.68 62.21,194.28 63.07,193.75 63.94,193.83 64.81,193.64 65.67,193.72 66.54,194.20 67.41,194.43 68.27,194.47 69.14,194.32 70.01,194.43 70.87,194.11 71.74,193.69 72.61,193.72 73.47,194.20 74.34,194.48 75.21,194.71 76.07,194.15 76.94,194.55 77.81,194.36 78.67,193.61 79.54,193.95 80.41,193.62 81.27,194.36 82.14,194.08 83.01,194.20 83.87,194.60 84.74,194.29 85.61,193.83 86.47,193.61 87.34,193.55 88.21,193.73 89.07,194.40 89.94,194.22 90.81,194.27 91.67,194.60 92.54,193.96 93.41,193.79 94.27,193.96 95.14,193.67 96.01,193.69 96.87,194.01 97.74,194.29 98.61,194.72 99.47,194.40 100.34,193.96 101.21,194.16 102.07,193.63 102.94,193.94 103.81,193.79 104.67,194.43 105.54,194.34 106.41,194.15 107.27,194.16 108.14,193.94 109.01,193.93 109.87,193.57 110.74,193.56 111.61,194.04 112.47,194.31 113.34,194.65 114.21,194.12 115.07,194.23 115.94,193.84 116.81,193.87 117.67,193.67 118.54,194.13 119.41,194.16 120.27,194.06 121.14,194.12 122.01,194.51 122.87,193.93 123.74,193.97 124.61,193.69 125.47,193.50 126.34,194.01 127.21,194.23 128.07,194.48 128.94,194.32 129.81,194.60 130.67,194.11 131.54,194.15 132.41,193.84 133.27,193.81 134.14,193.65 135.01,194.43 135.87,194.47 136.74,194.55 137.61,194.28 138.47,193.86 139.34,193.60 140.21,193.73 141.07,193.89 141.94,194.01 142.81,194.03 143.67,194.24 144.54,194.22 145.41,194.52 146.27,194.02 147.14,193.73 148.01,193.55 148.87,193.97 149.74,194.21 150.61,194.26 151.47,194.15 152.34,194.58 153.21,194.36 154.07,193.86 154.94,193.76 155.81,193.55 156.67,193.88 157.54,193.91 158.41,194.54 159.27,194.12 160.14,194.58 161.01,194.30 161.87,193.83 162.74,193.47 163.61,193.69 164.47,194.04 165.34,193.85 166.21,194.35 167.07,194.46 167.94,194.50 168.81,194.24 169.67,193.88 170.54,193.44 171.41,193.85 172.27,193.74 173.14,194.22 174.01,194.37 174.87,194.31 175.74,194.53 176.61,194.33 177.47,193.62 178.34,193.78 179.21,193.66 180.07,194.14 180.94,194.41 181.81,194.41 182.67,194.50 183.54,194.32 184.41,193.84 185.27,194.09 186.14,193.72 187.01,193.65 187.87,194.16 188.74,193.93 189.61,194.37 190.47,194.34 191.34,194.38 192.21,194.14 193.07,193.66 193.94,193.47 194.81,193.79 195.67,194.19 196.54,194.48 197.41,194.62 198.27,194.15 199.14,194.01 200.01,193.99 200.87,193.93 201.74,193.57 202.61,194.02 203.47,193.86 204.34,194.53 205.21,194.39 206.07,194.31 206.94,194.15 207.81,194.13 208.67,193.64 209.54,193.73 210.41,193.96 211.27,194.10 212.14,194.55 213.01,194.20 213.87,194.02 214.74,194.22 215.61,193.79 216.47,193.49 217.34,193.96 218.21,194.05 219.07,193.93 219.94,194.40 220.81,194.24 221.67,193.96 222.54,193.75 223.41,193.61 224.27,193.68 225.14,193.65 226.01,193.94 226.87,193.97 227.74,194.39 228.61,194.52 229.47,194.37 230.34,194.06 231.21,193.95 232.07,193.52 232.94,193.54 233.81,194.14 234.67,193.97 235.54,194.10 236.41,194.39 237.27,194.18 238.14,193.70 239.01,193.28 239.87,193.63 240.74,193.91 241.61,193.85 242.47,194.05 243.34,193.95 244.21,193.82 245.07,193.88 245.94,193.64 246.81,193.24 247.67,193.62 248.54,193.82 249.41,193.52 250.27,193.94 251.14,193.92 252.01,193.92 252.87,193.74 253.74,193.57 254.61,193.11 255.47,193.47 256.34,193.31 257.21,193.72 258.07,194.11 258.94,194.02 259.81,193.84 260.67,193.58 261.54,193.58 262.41,193.04 263.27,193.39 264.14,193.61 265.01,193.88 265.87,193.88 266.74,193.90 267.61,193.69 268.47,193.20 269.34,192.77 270.21,193.05 271.07,192.88 271.94,193.32 272.81,193.52 273.67,193.54 274.54,193.75 275.41,193.37 276.27,193.27 277.14,192.85 278.01,192.57 278.87,192.55 279.74,192.94 280.61,193.05 281.47,193.29 282.34,193.45 283.21,193.24 284.07,192.86 284.94,192.55 285.81,192.20 286.67,192.39 287.54,192.60 288.41,193.03 289.27,193.27 290.14,192.88 291.01,192.51 291.87,192.40 292.74,191.99 293.61,191.98 294.47,192.07 295.34,192.19 296.21,192.45 297.07,192.63 297.94,192.59 298.81,191.75 299.67,191.69 300.54,191.86 301.41,191.60 302.27,191.86 303.14,192.19 304.01,192.06 304.87,192.00 305.74,191.54 306.61,191.44 307.47,191.13 308.34,191.02 309.21,191.13 310.07,191.41 310.94,191.70 311.81,191.61 312.67,191.14 313.54,191.30 314.41,190.75 315.27,190.71 316.14,190.57 317.01,190.74 317.87,190.63 318.74,191.21 319.61,190.74 320.47,190.78 321.34,190.76 322.21,190.44 323.07,189.98 323.94,190.23 324.81,190.25 325.67,190.35 326.54,190.84 327.41,190.46 328.27,190.77 329.14,190.49 330.01,190.03 330.87,190.10 331.74,190.01 332.61,189.97 333.47,190.42 334.34,190.37 335.21,190.14 336.07,189.95 336.94,189.96 337.81,189.77 338.67,189.69 339.54,189.37 340.41,189.44 341.27,190.01 342.14,189.84 343.01,189.83 343.87,189.63 344.74,189.55 345.61,189.43 346.47,189.32 347.34,189.30 348.21,189.18 349.07,189.72 349.94,189.38 350.81,189.36 350.81,211.28 349.94,211.23 349.07,211.66 348.21,211.58 347.34,211.73 346.47,211.91 345.61,212.14 344.74,211.72 343.87,211.21 343.01,211.40 342.14,211.04 341.27,211.51 340.41,211.50 339.54,211.91 338.67,211.62 337.81,211.65 336.94,211.54 336.07,211.07 335.21,211.40 334.34,211.12 333.47,211.57 332.61,211.53 331.74,211.91 330.87,211.52 330.01,211.27 329.14,210.96 328.27,210.93 327.41,210.47 326.54,210.90 325.67,210.74 324.81,211.00 323.94,211.19 323.07,211.16 322.21,210.59 321.34,210.32 320.47,210.25 319.61,209.90 318.74,210.43 317.87,210.64 317.01,210.34 316.14,210.67 315.27,210.55 314.41,210.13 313.54,210.05 312.67,209.97 311.81,209.48 310.94,209.97 310.07,209.89 309.21,209.97 308.34,209.92 307.47,210.04 306.61,209.46 305.74,209.13 304.87,209.15 304.01,208.88 303.14,209.40 302.27,209.36 301.41,209.78 300.54,209.37 299.67,209.36 298.81,209.35 297.94,209.08 297.07,208.36 296.21,208.83 295.34,208.86 294.47,208.61 293.61,208.72 292.74,209.11 291.87,208.84 291.01,208.39 290.14,208.30 289.27,208.07 288.41,207.90 287.54,208.34 286.67,208.54 285.81,208.95 284.94,208.83 284.07,208.26 283.21,208.34 282.34,208.08 281.47,207.96 280.61,208.28 279.74,207.99 278.87,208.26 278.01,208.49 277.14,208.65 276.27,208.02 275.41,208.21 274.54,207.94 273.67,207.74 272.81,207.96 271.94,208.03 271.07,208.59 270.21,208.48 269.34,208.23 268.47,208.09 267.61,207.60 266.74,207.63 265.87,207.82 265.01,208.03 264.14,207.97 263.27,208.38 262.41,208.52 261.54,208.35 260.67,207.95 259.81,207.65 258.94,207.79 258.07,207.78 257.21,207.48 256.34,207.79 255.47,208.11 254.61,208.16 253.74,208.26 252.87,207.53 252.01,207.55 251.14,207.47 250.27,207.71 249.41,208.01 248.54,207.72 247.67,208.40 246.81,207.92 245.94,207.72 245.07,207.70 244.21,207.21 243.34,207.16 242.47,207.62 241.61,207.87 240.74,207.70 239.87,208.29 239.01,207.82 238.14,207.93 237.27,207.35 236.41,207.34 235.54,207.10 234.67,207.60 233.81,207.46 232.94,208.19 232.07,208.23 231.21,207.79 230.34,207.88 229.47,207.30 228.61,207.38 227.74,207.33 226.87,207.55 226.01,207.50 225.14,207.85 224.27,207.93 223.41,207.69 222.54,207.66 221.67,207.57 220.81,207.38 219.94,207.24 219.07,207.36 218.21,207.48 217.34,207.72 216.47,208.05 215.61,207.74 214.74,207.86 213.87,207.37 213.01,207.30 212.14,207.64 211.27,207.54 210.41,207.56 209.54,207.97 208.67,208.15 207.81,207.83 206.94,207.30 206.07,207.39 205.21,207.15 204.34,207.45 203.47,207.86 202.61,208.12 201.74,207.93 200.87,208.00 200.01,207.80 199.14,207.69 198.27,207.40 197.41,207.10 196.54,207.48 195.67,207.83 194.81,208.06 193.94,207.81 193.07,208.13 192.21,207.56 191.34,207.26 190.47,207.09 189.61,207.54 188.74,207.51 187.87,207.68 187.01,208.22 186.14,208.21 185.27,208.22 184.41,207.96 183.54,207.63 182.67,207.57 181.81,207.24 180.94,207.58 180.07,208.01 179.21,208.05 178.34,208.29 177.47,207.88 176.61,207.82 175.74,207.23 174.87,207.56 174.01,207.61 173.14,207.67 172.27,207.80 171.41,207.85 170.54,208.02 169.67,207.69 168.81,207.47 167.94,207.73 167.07,207.49 166.21,207.47 165.34,207.45 164.47,207.79 163.61,207.79 162.74,207.81 161.87,208.03 161.01,207.66 160.14,207.17 159.27,207.14 158.41,207.53 157.54,207.99 156.67,207.99 155.81,208.04 154.94,207.88 154.07,207.62 153.21,207.86 152.34,207.65 151.47,207.45 150.61,207.50 149.74,207.78 148.87,208.29 148.01,208.06 147.14,208.10 146.27,208.02 145.41,207.66 144.54,207.24 143.67,207.59 142.81,207.38 141.94,208.16 141.07,208.08 140.21,207.95 139.34,208.03 138.47,207.90 137.61,207.74 136.74,207.50 135.87,207.46 135.01,207.96 134.14,208.05 133.27,208.18 132.41,208.03 131.54,207.99 130.67,207.89 129.81,207.74 128.94,207.58 128.07,207.82 127.21,207.92 126.34,208.26 125.47,208.17 124.61,208.40 123.74,208.05 122.87,207.76 122.01,207.79 121.14,207.74 120.27,207.35 119.41,207.91 118.54,208.16 117.67,208.39 116.81,207.86 115.94,207.80 115.07,207.39 114.21,207.37 113.34,207.34 112.47,207.55 111.61,208.13 110.74,207.95 109.87,208.30 109.01,207.94 108.14,208.04 107.27,207.75 106.41,207.79 105.54,207.32 104.67,207.80 103.81,208.25 102.94,208.41 102.07,207.99 101.21,208.23 100.34,207.60 99.47,207.82 98.61,207.51 97.74,207.57 96.87,207.86 96.01,208.09 95.14,207.93 94.27,208.07 93.41,207.86 92.54,208.07 91.67,207.67 90.81,207.47 89.94,207.88 89.07,208.05 88.21,207.95 87.34,208.16 86.47,208.25 85.61,208.12 84.74,207.71 83.87,207.38 83.01,207.29 82.14,207.55 81.27,208.08 80.41,208.04 79.54,208.09 78.67,208.22 77.81,207.88 76.94,207.70 76.07,207.40 75.21,207.80 74.34,207.69 73.47,207.93 72.61,207.92 71.74,208.07 70.87,208.25 70.01,208.21 69.14,207.56 68.27,207.67 67.41,207.71 66.54,208.02 65.67,208.03 64.81,208.06 63.94,207.98 63.07,207.81 62.21,207.94 61.34,207.95 60.47,207.31 59.61,207.85 58.74,207.76 57.87,208.28 57.01,208.26 56.14,208.29 55.27,208.05 54.41,207.88 Z" fill="#f5461e"/>
<path d="M54.41,194.34 54.93,194.21 55.45,194.57 55.97,194.59 56.49,194.19 57.01,194.61 57.53,194.09 58.05,194.40 58.57,194.65 59.09,194.55 59.61,194.39 60.13,194.11 60.65,194.50 61.17,194.11 61.69,194.14 62.21,194.44 62.73,194.18 63.25,194.35 63.77,194.27 64.29,194.62 64.81,194.33 65.33,194.46 65.85,194.57 66.37,194.52 66.89,194.53 67.41,194.51 67.93,194.59 68.45,194.32 68.97,194.49 69.49,194.25 70.01,194.44 70.53,194.22 71.05,194.11 71.57,194.16 72.09,194.02 72.61,194.05 73.13,194.44 73.65,194.01 74.17,194.32 74.69,193.99 75.21,194.07 75.73,194.10 76.25,194.31 76.77,194.06 77.29,194.05 77.81,194.13 78.33,194.43 78.85,194.10 79.37,194.49 79.89,194.26 80.41,194.22 80.93,193.96 81.45,194.40 81.97,194.24 82.49,194.08 83.01,194.31 83.53,193.92 84.05,194.13 84.57,194.33 85.09,193.99 85.61,194.09 86.13,194.41 86.65,194.27 87.17,194.05 87.69,193.97 88.21,193.88 88.73,194.38 89.25,193.92 89.77,194.30 90.29,194.15 90.81,194.44 91.33,194.37 91.85,194.30 92.37,194.32 92.89,194.22 93.41,194.00 93.93,193.72 94.45,193.76 94.97,193.57 95.49,193.75 96.01,193.64 96.53,193.43 97.05,193.35 97.57,193.68 98.09,192.66 98.61,192.74 99.13,192.95 99.65,192.88 100.17,192.93 100.69,192.84 101.21,193.31 101.73,193.35 102.25,193.00 102.77,193.12 103.29,192.89 103.81,192.78 104.33,193.08 104.85,192.22 105.37,192.57 105.89,192.80 106.41,193.18 106.93,192.50 107.45,192.18 107.97,192.90 108.49,192.96 109.01,192.56 109.53,192.64 110.05,192.47 110.57,192.25 111.09,192.73 111.61,192.94 112.13,192.15 112.65,192.08 112.65,209.32 112.13,208.66 111.61,209.00 111.09,209.59 110.57,209.53 110.05,209.04 109.53,209.70 109.01,209.40 108.49,209.08 107.97,209.24 107.45,209.33 106.93,209.23 106.41,209.31 105.89,209.35 105.37,209.11 104.85,209.04 104.33,209.37 103.81,208.65 103.29,209.34 102.77,208.71 102.25,208.62 101.73,209.01 101.21,208.87 100.69,208.65 100.17,208.92 99.65,208.92 99.13,208.91 98.61,208.65 98.09,209.22 97.57,208.69 97.05,209.31 96.53,208.48 96.01,208.63 95.49,208.62 94.97,208.35 94.45,208.32 93.93,208.61 93.41,208.40 92.89,208.19 92.37,208.09 91.85,208.26 91.33,208.18 90.81,208.35 90.29,208.27 89.77,208.05 89.25,208.15 88.73,208.48 88.21,208.48 87.69,208.45 87.17,208.30 86.65,208.58 86.13,208.29 85.61,208.13 85.09,208.07 84.57,208.34 84.05,208.45 83.53,208.25 83.01,208.11 82.49,208.56 81.97,208.27 81.45,208.19 80.93,208.53 80.41,208.09 79.89,208.53 79.37,208.16 78.85,208.49 78.33,208.24 77.81,208.28 77.29,208.40 76.77,208.12 76.25,208.08 75.73,208.37 75.21,208.07 74.69,208.01 74.17,208.48 73.65,208.21 73.13,208.04 72.61,208.32 72.09,208.12 71.57,208.51 71.05,208.18 70.53,208.03 70.01,208.52 69.49,208.01 68.97,208.18 68.45,208.35 67.93,208.30 67.41,208.45 66.89,208.40 66.37,208.31 65.85,208.16 65.33,208.34 64.81,208.23 64.29,208.31 63.77,208.11 63.25,208.36 62.73,208.36 62.21,208.05 61.69,208.35 61.17,208.28 60.65,208.43 60.13,207.94 59.61,208.37 59.09,207.93 58.57,208.28 58.05,208.23 57.53,208.19 57.01,208.05 56.49,208.34 55.97,208.22 55.45,208.20 54.93,208.22 54.41,208.11 Z" fill="#f5aa1c"/>
<path d="M109.4,193.49 L110.20,188.8 L111.00,190.5 L111.60,188.1 L112.3,189.5 L112.3,209 L110.90,210.5 L110.00,214 L109.4,212 Z" fill="#f5aa1c"/>
<line x1="114.70" y1="189.00" x2="114.70" y2="210.70" stroke="#f6b435" stroke-width="0.8" />
<line x1="115.60" y1="187.50" x2="115.60" y2="211.00" stroke="#f6b435" stroke-width="0.8" />
<line x1="117.50" y1="185.80" x2="117.50" y2="211.60" stroke="#f6b435" stroke-width="0.8" />
<path d="M39.50,194.75 39.93,194.56 40.37,194.73 40.80,194.39 41.23,194.32 41.67,194.49 42.10,194.42 42.53,194.40 42.97,194.40 43.40,194.37 43.83,194.47 44.27,194.19 44.70,194.22 45.13,194.25 45.57,194.07 46.00,194.20 46.43,193.94 46.87,193.98 47.30,193.92 47.73,193.83 48.17,193.73 48.60,193.89 49.03,193.85 49.47,193.82 49.90,193.70 50.33,193.45 50.77,193.62 51.20,193.38 51.63,193.61 52.07,193.48 52.50,193.43 52.93,193.75 53.37,193.61 53.80,193.48 54.23,193.36 54.67,193.52 55.10,193.27 55.53,193.27 55.97,193.66 56.40,193.30 56.83,193.32 57.27,193.59 57.70,193.33 58.13,193.41 58.57,193.11 58.57,209.17 58.13,208.91 57.70,209.23 57.27,209.63 56.83,209.42 56.40,209.60 55.97,209.52 55.53,209.85 55.10,210.04 54.67,210.16 54.23,210.14 53.80,210.24 53.37,210.33 52.93,210.44 52.50,210.06 52.07,210.28 51.63,210.27 51.20,210.56 50.77,210.47 50.33,210.56 49.90,210.44 49.47,210.56 49.03,210.71 48.60,210.87 48.17,210.46 47.73,210.89 47.30,210.71 46.87,210.90 46.43,210.67 46.00,210.89 45.57,210.97 45.13,210.85 44.70,210.83 44.27,210.70 43.83,210.80 43.40,210.58 42.97,210.53 42.53,210.69 42.10,210.66 41.67,210.62 41.23,210.74 40.80,210.78 40.37,210.56 39.93,210.86 39.50,210.94 Z " fill="#4a80da"/>
<path d="M58.22,193.49 L59.78,194.33 L59.43,198.53 L59.78,201.90 L58.91,205.27 L57.70,207.79 L56.83,208.97 L56.83,193.49 Z" fill="#4a80da"/>
</g>
<rect x="39.40" y="151.40" width="312.20" height="101.00" fill="none" stroke="#2a2a2a" stroke-width="1.5"/>
<path d="M56.83,252.40v-1.5M74.17,252.40v-2.6M91.50,252.40v-1.5M108.83,252.40v-2.6M126.17,252.40v-1.5M143.50,252.40v-2.6M160.83,252.40v-1.5M178.17,252.40v-2.6M195.50,252.40v-1.5M212.83,252.40v-2.6M230.17,252.40v-1.5M247.50,252.40v-2.6M264.83,252.40v-1.5M282.17,252.40v-2.6M299.50,252.40v-1.5M316.83,252.40v-2.6M334.17,252.40v-1.5M39.40,243.98h1.5M39.40,235.56h2.6M39.40,227.15h1.5M39.40,218.73h2.6M39.40,210.31h1.5M39.40,201.90h2.6M39.40,193.49h1.5M39.40,185.07h2.6M39.40,176.66h1.5M39.40,168.24h2.6M39.40,159.82h1.5" stroke="#1a1a1a" stroke-width="0.9" fill="none"/>
<text x="39.50" y="259.00" font-size="7.5" text-anchor="middle" dominant-baseline="central" fill="#151515" stroke="#151515" stroke-width="0.25" font-family="Liberation Serif" font-weight="bold" transform="translate(39.50 259.00) scale(1.0 0.84) translate(-39.50 -259.00)">0</text>
<text x="74.17" y="259.00" font-size="7.5" text-anchor="middle" dominant-baseline="central" fill="#151515" stroke="#151515" stroke-width="0.25" font-family="Liberation Serif" font-weight="bold" transform="translate(74.17 259.00) scale(1.0 0.84) translate(-74.17 -259.00)">200</text>
<text x="108.83" y="259.00" font-size="7.5" text-anchor="middle" dominant-baseline="central" fill="#151515" stroke="#151515" stroke-width="0.25" font-family="Liberation Serif" font-weight="bold" transform="translate(108.83 259.00) scale(1.0 0.84) translate(-108.83 -259.00)">400</text>
<text x="143.50" y="259.00" font-size="7.5" text-anchor="middle" dominant-baseline="central" fill="#151515" stroke="#151515" stroke-width="0.25" font-family="Liberation Serif" font-weight="bold" transform="translate(143.50 259.00) scale(1.0 0.84) translate(-143.50 -259.00)">600</text>
<text x="178.17" y="259.00" font-size="7.5" text-anchor="middle" dominant-baseline="central" fill="#151515" stroke="#151515" stroke-width="0.25" font-family="Liberation Serif" font-weight="bold" transform="translate(178.17 259.00) scale(1.0 0.84) translate(-178.17 -259.00)">800</text>
<text x="212.83" y="259.00" font-size="7.5" text-anchor="middle" dominant-baseline="central" fill="#151515" stroke="#151515" stroke-width="0.25" font-family="Liberation Serif" font-weight="bold" transform="translate(212.83 259.00) scale(1.0 0.84) translate(-212.83 -259.00)">1000</text>
<text x="247.50" y="259.00" font-size="7.5" text-anchor="middle" dominant-baseline="central" fill="#151515" stroke="#151515" stroke-width="0.25" font-family="Liberation Serif" font-weight="bold" transform="translate(247.50 259.00) scale(1.0 0.84) translate(-247.50 -259.00)">1200</text>
<text x="282.17" y="259.00" font-size="7.5" text-anchor="middle" dominant-baseline="central" fill="#151515" stroke="#151515" stroke-width="0.25" font-family="Liberation Serif" font-weight="bold" transform="translate(282.17 259.00) scale(1.0 0.84) translate(-282.17 -259.00)">1400</text>
<text x="316.83" y="259.00" font-size="7.5" text-anchor="middle" dominant-baseline="central" fill="#151515" stroke="#151515" stroke-width="0.25" font-family="Liberation Serif" font-weight="bold" transform="translate(316.83 259.00) scale(1.0 0.84) translate(-316.83 -259.00)">1600</text>
<text x="351.50" y="259.00" font-size="7.5" text-anchor="middle" dominant-baseline="central" fill="#151515" stroke="#151515" stroke-width="0.25" font-family="Liberation Serif" font-weight="bold" transform="translate(351.50 259.00) scale(1.0 0.84) translate(-351.50 -259.00)">1800</text>
<text x="36.60" y="252.39" font-size="6.6" text-anchor="end" dominant-baseline="central" fill="#151515" stroke="#151515" stroke-width="0.25" font-family="Liberation Serif" font-weight="bold" transform="translate(36.60 252.39) scale(1.18 0.92) translate(-36.60 -252.39)">-0.3</text>
<text x="36.60" y="235.56" font-size="6.6" text-anchor="end" dominant-baseline="central" fill="#151515" stroke="#151515" stroke-width="0.25" font-family="Liberation Serif" font-weight="bold" transform="translate(36.60 235.56) scale(1.18 0.92) translate(-36.60 -235.56)">-0.2</text>
<text x="36.60" y="218.73" font-size="6.6" text-anchor="end" dominant-baseline="central" fill="#151515" stroke="#151515" stroke-width="0.25" font-family="Liberation Serif" font-weight="bold" transform="translate(36.60 218.73) scale(1.18 0.92) translate(-36.60 -218.73)">-0.1</text>
<text x="36.60" y="201.90" font-size="6.6" text-anchor="end" dominant-baseline="central" fill="#151515" stroke="#151515" stroke-width="0.25" font-family="Liberation Serif" font-weight="bold" transform="translate(36.60 201.90) scale(1.18 0.92) translate(-36.60 -201.90)">0.0</text>
<text x="36.60" y="185.07" font-size="6.6" text-anchor="end" dominant-baseline="central" fill="#151515" stroke="#151515" stroke-width="0.25" font-family="Liberation Serif" font-weight="bold" transform="translate(36.60 185.07) scale(1.18 0.92) translate(-36.60 -185.07)">0.1</text>
<text x="36.60" y="168.24" font-size="6.6" text-anchor="end" dominant-baseline="central" fill="#151515" stroke="#151515" stroke-width="0.25" font-family="Liberation Serif" font-weight="bold" transform="translate(36.60 168.24) scale(1.18 0.92) translate(-36.60 -168.24)">0.2</text>
<text x="36.60" y="151.41" font-size="6.6" text-anchor="end" dominant-baseline="central" fill="#151515" stroke="#151515" stroke-width="0.25" font-family="Liberation Serif" font-weight="bold" transform="translate(36.60 151.41) scale(1.18 0.92) translate(-36.60 -151.41)">0.3</text>
<text x="195.80" y="271.60" font-size="8.0" text-anchor="middle" dominant-baseline="central" fill="#151515" stroke="#151515" stroke-width="0.25" font-family="Liberation Serif" font-weight="bold">Time (h)</text>
<text x="17.80" y="206.00" font-size="7.6" text-anchor="middle" dominant-baseline="central" fill="#151515" stroke="#151515" stroke-width="0.25" font-family="Liberation Serif" font-weight="bold" transform="rotate(-90 17.80 206.00)">Voltage (V)</text>
<text x="58.20" y="239.20" font-size="8.0" text-anchor="start" dominant-baseline="central" fill="#151515" stroke="#151515" stroke-width="0.25" font-family="Liberation Serif" font-weight="bold" xml:space="preserve"><tspan>1 mA cm</tspan><tspan font-size="4.4" dy="-3.04">-2</tspan><tspan dy="3.04">&#160; 1 mAh cm</tspan><tspan font-size="4.4" dy="-3.04">-2</tspan></text>
<line x1="293.20" y1="165.90" x2="304.70" y2="165.70" stroke="#4a80da" stroke-width="1.5" />
<text x="308.40" y="165.30" font-size="7.7" text-anchor="start" dominant-baseline="central" fill="#151515" stroke="#151515" stroke-width="0.25" font-family="Liberation Serif" font-weight="bold">Pristine GF</text>
<line x1="293.20" y1="175.90" x2="304.70" y2="175.70" stroke="#f5aa1c" stroke-width="1.5" />
<text x="308.40" y="175.30" font-size="7.7" text-anchor="start" dominant-baseline="central" fill="#151515" stroke="#151515" stroke-width="0.25" font-family="Liberation Serif" font-weight="bold">PDA/ GF</text>
<line x1="293.20" y1="185.80" x2="304.70" y2="185.60" stroke="#f5461e" stroke-width="1.5" />
<text x="308.40" y="185.20" font-size="7.7" text-anchor="start" dominant-baseline="central" fill="#151515" stroke="#151515" stroke-width="0.25" font-family="Liberation Serif" font-weight="bold">Cu-PDA/GF</text>
<rect x="53" y="183" width="9.9" height="38.8" fill="none" stroke="#3d7cc4" stroke-width="1.3" stroke-dasharray="3.5,2"/>
<line x1="62.90" y1="183.00" x2="369.40" y2="150.60" stroke="#4a7fcf" stroke-width="1.6" stroke-dasharray="10.5,4.5"/>
<line x1="62.90" y1="221.80" x2="369.40" y2="254.40" stroke="#4a7fcf" stroke-width="1.6" stroke-dasharray="10.5,4.5"/>
<defs><clipPath id="cdr"><rect x="396.9" y="151.2" width="139.5" height="101.30000000000001"/></clipPath></defs>
<g clip-path="url(#cdr)">
<path d="M392.19,220.08 392.72,181.59 393.59,189.19 395.68,190.71 395.68,210.46 396.10,214.01 399.17,220.08 399.17,220.08 399.69,181.59 400.56,189.19 402.65,190.71 402.65,210.46 403.07,214.01 406.14,220.08 406.14,220.08 406.67,181.59 407.54,189.19 409.63,190.71 409.63,210.46 410.05,214.01 413.12,220.08 413.12,220.08 413.64,181.59 414.51,189.19 416.60,190.71 416.60,210.46 417.02,214.01 420.09,220.08 420.09,220.08 420.62,181.59 421.49,189.19 423.58,190.71 423.58,210.46 424.00,214.01 427.07,220.08 427.07,220.08 427.59,181.59 428.46,189.19 430.55,190.71 430.55,210.46 430.97,214.01 434.04,220.08 434.04,220.08 434.56,181.59 435.44,189.19 437.53,190.71 437.53,210.46 437.95,214.01 441.02,220.08 441.02,220.08 441.54,181.59 442.41,189.19 444.50,190.71 444.50,210.46 444.92,214.01 447.99,220.08 447.99,220.08 448.52,181.59 449.39,189.19 451.48,190.71 451.48,210.46 451.90,214.01 454.97,220.08 454.97,214.01 456.01,179.06 456.71,184.12 458.45,188.68 458.52,210.97 458.87,220.08 459.67,214.01 461.94,214.01 461.94,214.01 462.99,179.06 463.69,184.12 465.43,188.68 465.50,210.97 465.85,220.08 466.65,214.01 468.92,214.01 468.92,214.01 469.96,179.06 470.66,184.12 472.40,188.68 472.47,210.97 472.82,220.08 473.62,214.01 475.89,214.01 475.89,214.01 476.94,179.06 477.64,184.12 479.38,188.68 479.45,210.97 479.80,220.08 480.60,214.01 482.87,214.01 482.87,214.01 483.91,179.06 484.61,184.12 486.35,188.68 486.42,210.97 486.77,220.08 487.57,214.01 489.84,214.01 489.84,214.01 490.89,179.06 491.59,184.12 493.33,188.68 493.40,210.97 493.75,220.08 494.55,214.01 496.82,214.01 496.82,214.01 497.86,179.06 498.56,184.12 500.30,188.68 500.37,210.97 500.72,220.08 501.52,214.01 503.79,214.01 503.79,214.01 504.84,179.06 505.54,184.12 507.28,188.68 507.35,210.97 507.70,220.08 508.50,214.01 510.77,214.01 510.77,214.01 511.81,179.06 512.51,184.12 514.25,188.68 514.32,210.97 514.67,220.08 515.48,214.01 517.74,214.01 517.74,214.01 518.79,179.06 519.49,184.12 521.23,188.68 521.30,210.97 521.65,220.08 522.45,214.01 524.72,214.01 524.72,214.01 525.76,179.06 526.46,184.12 528.20,188.68 528.27,210.97 528.62,220.08 529.42,214.01 531.69,214.01 531.69,214.01 532.74,179.06 533.44,184.12 535.18,188.68 535.25,210.97 535.60,220.08 536.40,214.01 538.67,214.01 538.67,214.01 539.71,179.06 540.41,184.12 542.15,188.68 542.22,210.97 542.57,220.08 543.38,214.01 545.64,214.01" stroke="#f5461e" stroke-width="1.3" fill="none" stroke-linejoin="round" />
<path d="M392.19,223.12 392.72,176.52 393.59,187.67 395.68,190.71 395.68,209.95 396.10,212.99 399.17,223.12 399.17,223.12 399.69,176.52 400.56,187.67 402.65,190.71 402.65,209.95 403.07,212.99 406.14,223.12 406.14,223.12 406.67,176.52 407.54,187.67 409.63,190.71 409.63,209.95 410.05,212.99 413.12,223.12 413.12,223.12 413.64,176.52 414.51,187.67 416.60,190.71 416.60,209.95 417.02,212.99 420.09,223.12 420.09,223.12 420.62,176.52 421.49,187.67 423.58,190.71 423.58,209.95 424.00,212.99 427.07,223.12 427.07,223.12 427.59,176.52 428.46,187.67 430.55,190.71 430.55,209.95 430.97,212.99 434.04,223.12 434.04,223.12 434.56,176.52 435.44,187.67 437.53,190.71 437.53,209.95 437.95,212.99 441.02,223.12 441.02,223.12 441.54,176.52 442.41,187.67 444.50,190.71 444.50,209.95 444.92,212.99 447.99,223.12 447.99,223.12 448.52,176.52 449.39,187.67 451.48,190.71 451.48,209.95 451.90,212.99 454.97,223.12 454.97,211.98 456.01,176.52 457.06,189.19 458.45,194.25 458.45,207.93 458.98,216.03 461.94,211.98 461.94,210.97 462.99,179.06 464.03,190.45 465.43,195.01 465.43,207.93 465.95,214.61 468.92,210.97 468.92,205.90 469.96,191.72 471.01,196.78 472.40,198.81 472.40,207.93 472.93,207.52 475.89,205.90 475.89,208.94 476.94,184.12 477.98,192.99 479.38,196.53 479.38,207.93 479.90,211.78 482.87,208.94 482.87,212.99 483.91,173.99 484.96,187.92 486.35,193.49 486.35,207.93 486.88,217.45 489.84,212.99 489.84,198.81 493.33,198.81 493.33,202.86 496.82,202.86 496.82,198.81 500.30,198.81 500.30,202.86 503.79,202.86 503.79,198.81 507.28,198.81 507.28,202.86 510.77,202.86 510.77,210.97 511.81,179.06 512.86,190.45 514.25,195.01 514.25,207.93 514.78,214.61 517.74,210.97 517.74,209.95 518.79,181.59 519.83,191.72 521.23,195.77 521.23,207.93 521.75,213.20 524.72,209.95 524.72,198.81 528.20,198.81 528.20,202.86 531.69,202.86 531.69,198.81 535.18,198.81 535.18,202.86 538.67,202.86 538.67,198.81 542.15,198.81 542.15,202.86 545.64,202.86" stroke="#4a80da" stroke-width="1.3" fill="none" stroke-linejoin="round" />
</g>
<rect x="396.90" y="151.20" width="139.50" height="101.30" fill="none" stroke="#2a2a2a" stroke-width="1.5"/>
<path d="M414.34,252.50v-1.5M431.77,252.50v-2.6M449.21,252.50v-1.5M466.65,252.50v-2.6M484.09,252.50v-1.5M501.52,252.50v-2.6M518.96,252.50v-1.5M396.90,239.84h1.5M396.90,227.18h2.6M396.90,214.51h1.5M396.90,201.85h2.6M396.90,189.19h1.5M396.90,176.52h2.6M396.90,163.86h1.5" stroke="#1a1a1a" stroke-width="0.9" fill="none"/>
<text x="396.90" y="258.30" font-size="7.2" text-anchor="middle" dominant-baseline="central" fill="#151515" stroke="#151515" stroke-width="0.25" font-family="Liberation Serif" font-weight="bold" transform="translate(396.90 258.30) scale(1.2 1.0) translate(-396.90 -258.30)">80</text>
<text x="431.77" y="258.30" font-size="7.2" text-anchor="middle" dominant-baseline="central" fill="#151515" stroke="#151515" stroke-width="0.25" font-family="Liberation Serif" font-weight="bold" transform="translate(431.77 258.30) scale(1.2 1.0) translate(-431.77 -258.30)">90</text>
<text x="466.65" y="258.30" font-size="7.2" text-anchor="middle" dominant-baseline="central" fill="#151515" stroke="#151515" stroke-width="0.25" font-family="Liberation Serif" font-weight="bold" transform="translate(466.65 258.30) scale(1.2 1.0) translate(-466.65 -258.30)">100</text>
<text x="501.52" y="258.30" font-size="7.2" text-anchor="middle" dominant-baseline="central" fill="#151515" stroke="#151515" stroke-width="0.25" font-family="Liberation Serif" font-weight="bold" transform="translate(501.52 258.30) scale(1.2 1.0) translate(-501.52 -258.30)">110</text>
<text x="536.40" y="258.30" font-size="7.2" text-anchor="middle" dominant-baseline="central" fill="#151515" stroke="#151515" stroke-width="0.25" font-family="Liberation Serif" font-weight="bold" transform="translate(536.40 258.30) scale(1.2 1.0) translate(-536.40 -258.30)">120</text>
<text x="394.00" y="252.50" font-size="6.6" text-anchor="end" dominant-baseline="central" fill="#151515" stroke="#151515" stroke-width="0.25" font-family="Liberation Serif" font-weight="bold" transform="translate(394.00 252.50) scale(1.25 0.9) translate(-394.00 -252.50)">-0.10</text>
<text x="394.00" y="227.18" font-size="6.6" text-anchor="end" dominant-baseline="central" fill="#151515" stroke="#151515" stroke-width="0.25" font-family="Liberation Serif" font-weight="bold" transform="translate(394.00 227.18) scale(1.25 0.9) translate(-394.00 -227.18)">-0.05</text>
<text x="394.00" y="201.85" font-size="6.6" text-anchor="end" dominant-baseline="central" fill="#151515" stroke="#151515" stroke-width="0.25" font-family="Liberation Serif" font-weight="bold" transform="translate(394.00 201.85) scale(1.25 0.9) translate(-394.00 -201.85)">0.00</text>
<text x="394.00" y="176.52" font-size="6.6" text-anchor="end" dominant-baseline="central" fill="#151515" stroke="#151515" stroke-width="0.25" font-family="Liberation Serif" font-weight="bold" transform="translate(394.00 176.52) scale(1.25 0.9) translate(-394.00 -176.52)">0.05</text>
<text x="394.00" y="151.20" font-size="6.6" text-anchor="end" dominant-baseline="central" fill="#151515" stroke="#151515" stroke-width="0.25" font-family="Liberation Serif" font-weight="bold" transform="translate(394.00 151.20) scale(1.25 0.9) translate(-394.00 -151.20)">0.10</text>
<text x="466.50" y="271.60" font-size="7.8" text-anchor="middle" dominant-baseline="central" fill="#151515" stroke="#151515" stroke-width="0.25" font-family="Liberation Serif" font-weight="bold">Time (h)</text>
<text x="370.80" y="199.90" font-size="8.1" text-anchor="middle" dominant-baseline="central" fill="#151515" stroke="#151515" stroke-width="0.25" font-family="Liberation Serif" font-weight="bold" transform="rotate(-90 370.80 199.90)" xml:space="preserve"><tspan>Voltage (V, vs. Zn</tspan><tspan font-size="4.455" dy="-3.08">2+</tspan><tspan dy="3.08">/Zn)</tspan></text>
<text x="14.05" y="284.95" font-size="11.2" text-anchor="middle" dominant-baseline="central" fill="#151515" stroke="#151515" stroke-width="0.3" font-family="Liberation Serif" font-weight="bold">(e)</text>
<defs><clipPath id="ce"><rect x="39.4" y="288.8" width="313.40000000000003" height="101.09999999999997"/></clipPath></defs>
<g clip-path="url(#ce)">
<path d="M39.40,334.30 44.79,334.30 50.18,334.30 55.57,334.30 60.96,334.30 66.35,334.30 71.74,334.30 77.13,334.30 82.52,334.30 87.91,334.30 93.30,334.30 98.69,334.30 104.08,334.30 109.47,334.30 114.86,334.30 120.25,334.30 125.64,334.30 131.03,334.30 136.42,334.30 141.81,334.30 147.20,334.30 152.59,334.30 157.98,334.30 163.37,334.30 168.76,334.30 174.15,334.30 179.54,334.30 184.93,334.30 190.32,334.30 195.71,334.30 201.10,334.30 206.49,333.79 211.88,333.28 217.27,332.78 222.66,332.27 228.05,331.77 233.44,331.71 238.83,331.66 244.22,331.60 249.61,331.54 255.00,331.49 260.39,331.43 265.78,331.37 271.17,331.32 276.56,331.26 281.95,331.21 287.34,331.15 292.73,331.09 298.12,331.04 303.51,330.98 308.90,330.93 314.29,330.80 319.68,330.67 325.07,330.55 330.46,330.42 335.85,330.29 341.24,330.17 346.63,330.04 352.02,329.91 352.02,350.81 346.63,350.60 341.24,350.39 335.85,350.18 330.46,349.97 325.07,349.75 319.68,349.54 314.29,349.33 308.90,349.12 303.51,348.98 298.12,348.83 292.73,348.68 287.34,348.54 281.95,348.39 276.56,348.25 271.17,348.10 265.78,347.95 260.39,347.81 255.00,347.66 249.61,347.52 244.22,347.37 238.83,347.22 233.44,347.08 228.05,346.93 222.66,346.43 217.27,345.92 211.88,345.42 206.49,344.91 201.10,344.41 195.71,344.41 190.32,344.41 184.93,344.41 179.54,344.41 174.15,344.41 168.76,344.41 163.37,344.41 157.98,344.41 152.59,344.41 147.20,344.41 141.81,344.41 136.42,344.41 131.03,344.41 125.64,344.41 120.25,344.41 114.86,344.41 109.47,344.41 104.08,344.41 98.69,344.41 93.30,344.41 87.91,344.41 82.52,344.41 77.13,344.41 71.74,344.41 66.35,344.41 60.96,344.41 55.57,344.41 50.18,344.41 44.79,344.41 39.40,344.41 Z" fill="#f06a45"/>
<path d="M39.80,332.61 40.48,332.81 41.15,334.30 41.15,346.09 41.83,345.89 42.50,344.41 42.50,332.61 43.17,332.81 43.85,334.30 43.85,346.09 44.52,345.89 45.19,344.41 45.19,332.61 45.87,332.81 46.54,334.30 46.54,346.09 47.22,345.89 47.89,344.41 47.89,332.61 48.56,332.81 49.24,334.30 49.24,346.09 49.91,345.89 50.58,344.41 50.58,332.61 51.26,332.81 51.93,334.30 51.93,346.09 52.61,345.89 53.28,344.41 53.28,332.61 53.95,332.81 54.63,334.30 54.63,346.09 55.30,345.89 55.97,344.41 55.97,332.61 56.65,332.81 57.32,334.30 57.32,346.09 58.00,345.89 58.67,344.41 58.67,332.61 59.34,332.81 60.02,334.30 60.02,346.09 60.69,345.89 61.36,344.41 61.36,332.61 62.04,332.81 62.71,334.30 62.71,346.09 63.39,345.89 64.06,344.41 64.06,332.61 64.73,332.81 65.41,334.30 65.41,346.09 66.08,345.89 66.75,344.41 66.75,332.61 67.43,332.81 68.10,334.30 68.10,346.09 68.78,345.89 69.45,344.41 69.45,332.61 70.12,332.81 70.80,334.30 70.80,346.09 71.47,345.89 72.14,344.41 72.14,332.61 72.82,332.81 73.49,334.30 73.49,346.09 74.17,345.89 74.84,344.41 74.84,332.61 75.51,332.81 76.19,334.30 76.19,346.09 76.86,345.89 77.53,344.41 77.53,332.61 78.21,332.81 78.88,334.30 78.88,346.09 79.56,345.89 80.23,344.41 80.23,332.61 80.90,332.81 81.58,334.30 81.58,346.09 82.25,345.89 82.92,344.41 82.92,332.61 83.60,332.81 84.27,334.30 84.27,346.09 84.95,345.89 85.62,344.41 85.62,332.61 86.29,332.81 86.97,334.30 86.97,346.09 87.64,345.89 88.31,344.41 88.31,332.61 88.99,332.77 89.66,333.94 89.66,346.09 90.34,345.89 91.01,344.41 91.01,332.61 91.68,332.49 92.36,331.58 92.36,346.09 93.03,345.89 93.70,344.41 93.70,332.61 94.38,332.24 95.05,329.52 95.05,346.09 95.73,345.93 96.40,344.78 96.40,332.61 97.07,332.19 97.75,329.13 97.75,346.09 98.42,346.24 99.09,347.31 99.09,332.61 99.77,332.15 100.44,328.75 100.44,346.09 101.12,346.50 101.79,349.54 101.79,332.61 102.46,332.10 103.14,328.36 103.14,346.09 103.81,346.56 104.48,350.04 104.48,332.61 105.16,332.08 105.83,328.22 105.83,346.09 106.51,346.62 107.18,350.47 107.18,332.61 107.85,332.08 108.53,328.22 108.53,346.09 109.20,346.61 109.87,350.46 109.87,332.61 110.55,332.08 111.22,328.21 111.22,346.09 111.90,346.61 112.57,350.44 112.57,332.61 113.24,332.08 113.92,328.21 113.92,346.09 114.59,346.61 115.26,350.43 115.26,332.61 115.94,332.08 116.61,328.20 116.61,346.09 117.29,346.61 117.96,350.42 117.96,332.61 118.63,332.08 119.31,328.19 119.31,346.09 119.98,346.61 120.65,350.40 120.65,332.61 121.33,332.08 122.00,328.19 122.00,346.09 122.68,346.61 123.35,350.39 123.35,332.61 124.02,332.08 124.70,328.18 124.70,346.09 125.37,346.60 126.04,350.38 126.04,332.61 126.72,332.08 127.39,328.17 127.39,346.09 128.07,346.60 128.74,350.37 128.74,332.61 129.41,332.08 130.09,328.17 130.09,346.09 130.76,346.60 131.43,350.35 131.43,332.61 132.11,332.08 132.78,328.16 132.78,346.09 133.46,346.60 134.13,350.34 134.13,332.61 134.80,332.08 135.48,328.15 135.48,346.09 136.15,346.60 136.82,350.33 136.82,332.61 137.50,332.07 138.17,328.15 138.17,346.09 138.85,346.60 139.52,350.31 139.52,332.61 140.19,332.07 140.87,328.14 140.87,346.09 141.54,346.60 142.21,350.30 142.21,332.61 142.89,332.07 143.56,328.14 143.56,346.09 144.24,346.59 144.91,350.29 144.91,332.61 145.58,332.07 146.26,328.13 146.26,346.09 146.93,346.59 147.60,350.27 147.60,332.61 148.28,332.07 148.95,328.12 148.95,346.09 149.63,346.59 150.30,350.26 150.30,332.61 150.97,332.07 151.65,328.12 151.65,346.09 152.32,346.59 152.99,350.25 152.99,332.61 153.67,332.07 154.34,328.11 154.34,346.09 155.02,346.59 155.69,350.24 155.69,332.61 156.36,332.07 157.04,328.10 157.04,346.09 157.71,346.59 158.38,350.22 158.38,332.61 159.06,332.07 159.73,328.10 159.73,346.09 160.41,346.58 161.08,350.21 161.08,332.61 161.75,332.07 162.43,328.09 162.43,346.09 163.10,346.58 163.77,350.20 163.77,332.61 164.45,332.07 165.12,328.08 165.12,346.09 165.80,346.58 166.47,350.18 166.47,332.61 167.14,332.07 167.82,328.08 167.82,346.09 168.49,346.58 169.16,350.17 169.16,332.61 169.84,332.07 170.51,328.07 170.51,346.09 171.19,346.58 171.86,350.16 171.86,332.61 172.53,332.06 173.21,328.07 173.21,346.09 173.88,346.58 174.55,350.15 174.55,332.61 175.23,332.06 175.90,328.05 175.90,346.09 176.58,346.58 177.25,350.14 177.25,332.61 177.92,332.06 178.60,328.00 178.60,346.09 179.27,346.58 179.94,350.20 179.94,332.61 180.62,332.05 181.29,327.95 181.29,346.09 181.97,346.59 182.64,350.26 182.64,332.61 183.31,332.05 183.99,327.90 183.99,346.09 184.66,346.60 185.33,350.32 185.33,332.61 186.01,332.04 186.68,327.85 186.68,346.09 187.36,346.60 188.03,350.38 188.03,332.61 188.70,332.03 189.38,327.81 189.38,346.09 190.05,346.61 190.72,350.44 190.72,332.61 191.40,332.03 192.07,327.76 192.07,346.09 192.75,346.62 193.42,350.50 193.42,332.61 194.09,332.02 194.77,327.71 194.77,346.09 195.44,346.63 196.11,350.56 196.11,332.61 196.79,332.02 197.46,327.66 197.46,346.09 198.14,346.63 198.81,350.62 198.81,332.61 199.48,332.01 200.16,327.61 200.16,346.09 200.83,346.64 201.50,350.68 201.50,332.61 202.18,332.00 202.85,327.56 202.85,346.09 203.53,346.65 204.20,350.74 204.20,332.61 204.87,332.00 205.55,327.51 205.55,346.09 206.22,346.65 206.89,350.80 206.89,332.61 207.57,331.99 208.24,327.46 208.24,346.09 208.92,346.66 209.59,350.86 209.59,332.61 210.26,331.99 210.94,327.41 210.94,346.09 211.61,346.67 212.28,350.92 212.28,332.61 212.96,331.98 213.63,327.36 213.63,346.09 214.31,346.68 214.98,350.98 214.98,332.61 215.65,331.97 216.33,327.31 216.33,346.09 217.00,346.68 217.67,351.03 217.67,332.61 218.35,331.97 219.02,327.26 219.02,346.09 219.70,346.69 220.37,351.09 220.37,332.61 221.04,331.96 221.72,327.21 221.72,346.09 222.39,346.70 223.06,351.18 223.06,332.61 223.74,331.96 224.41,327.15 224.41,346.09 225.09,346.73 225.76,351.40 225.76,332.61 226.43,331.95 227.11,327.10 227.11,346.09 227.78,346.75 228.45,351.63 228.45,332.61 229.13,331.94 229.80,327.04 229.80,346.09 230.48,346.78 231.15,351.85 231.15,332.61 231.82,331.93 232.50,326.98 232.50,346.09 233.17,346.81 233.84,352.08 233.84,332.61 234.52,331.93 235.19,326.93 235.19,346.09 235.87,346.84 236.54,352.30 236.54,332.61 237.21,331.92 237.89,326.87 237.89,346.09 238.56,346.86 239.23,352.53 239.23,332.61 239.91,331.91 240.58,326.82 240.58,346.09 241.26,346.89 241.93,352.75 241.93,332.61 242.60,331.91 243.28,326.76 243.28,346.09 243.95,346.92 244.62,352.98 244.62,332.61 245.30,331.90 245.97,326.70 245.97,346.09 246.65,346.94 247.32,353.20 247.32,332.61 247.99,331.89 248.67,326.65 248.67,346.09 249.34,346.97 250.01,353.43 250.01,332.61 250.69,331.89 251.36,326.59 251.36,346.09 252.04,347.00 252.71,353.65 252.71,332.61 253.38,331.88 254.06,326.54 254.06,346.09 254.73,347.02 255.40,353.87 255.40,332.61 256.08,331.87 256.75,326.48 256.75,346.09 257.43,347.05 258.10,354.10 258.10,332.61 258.77,331.87 259.45,326.42 259.45,346.09 260.12,347.08 260.79,354.32 260.79,332.61 261.47,331.86 262.14,326.36 262.14,346.09 262.82,347.10 263.49,354.53 263.49,332.61 264.16,331.85 264.84,326.29 264.84,346.09 265.51,347.11 266.18,354.60 266.18,332.61 266.86,331.84 267.53,326.21 267.53,346.09 268.21,347.12 268.88,354.68 268.88,332.61 269.55,331.83 270.23,326.14 270.23,346.09 270.90,347.13 271.57,354.75 271.57,332.61 272.25,331.82 272.92,326.06 272.92,346.09 273.60,347.14 274.27,354.83 274.27,332.61 274.94,331.82 275.62,325.99 275.62,346.09 276.29,347.15 276.96,354.90 276.96,332.61 277.64,331.81 278.31,325.91 278.31,346.09 278.99,347.16 279.66,354.98 279.66,332.61 280.33,331.80 281.01,325.84 281.01,346.09 281.68,347.17 282.35,355.05 282.35,332.61 283.03,331.79 283.70,325.77 283.70,346.09 284.38,347.17 285.05,355.13 285.05,332.61 285.72,331.78 286.40,325.69 286.40,346.09 287.07,347.18 287.74,355.20 287.74,332.61 288.42,331.77 289.09,325.62 289.09,346.09 289.77,347.19 290.44,355.28 290.44,332.61 291.11,331.76 291.79,325.54 291.79,346.09 292.46,347.20 293.13,355.35 293.13,332.61 293.81,331.75 294.48,325.47 294.48,346.09 295.16,347.21 295.83,355.42 295.83,332.61 296.50,331.74 297.18,325.39 297.18,346.09 297.85,347.22 298.52,355.50 298.52,332.61 299.20,331.73 299.87,325.32 299.87,346.09 300.55,347.23 301.22,355.57 301.22,332.61 301.89,331.73 302.57,325.24 302.57,346.09 303.24,347.24 303.91,355.65 303.91,332.61 304.59,331.72 305.26,325.17 305.26,346.09 305.94,347.25 306.61,355.72 306.61,332.61 307.28,331.71 307.96,325.09 307.96,346.09 308.63,347.26 309.30,355.80 309.30,332.61 309.98,331.70 310.65,325.01 310.65,346.09 311.33,347.26 312.00,355.88 312.00,332.61 312.67,331.68 313.35,324.86 313.35,346.09 314.02,347.28 314.69,355.98 314.69,332.61 315.37,331.66 316.04,324.71 316.04,346.09 316.72,347.29 317.39,356.09 317.39,332.61 318.06,331.64 318.74,324.56 318.74,346.09 319.41,347.30 320.08,356.19 320.08,332.61 320.76,331.63 321.43,324.42 321.43,346.09 322.11,347.32 322.78,356.30 322.78,332.61 323.45,331.61 324.13,324.27 324.13,346.09 324.80,347.33 325.47,356.41 325.47,332.61 326.15,331.59 326.82,324.12 326.82,346.09 327.50,347.34 328.17,356.51 328.17,332.61 328.84,331.57 329.52,323.97 329.52,346.09 330.19,347.35 330.86,356.62 330.86,332.61 331.54,331.56 332.21,323.83 332.21,346.09 332.89,347.37 333.56,356.72 333.56,332.61 334.23,331.54 334.91,323.68 334.91,346.09 335.58,347.38 336.25,356.83 336.25,332.61 336.93,331.52 337.60,323.53 337.60,346.09 338.28,347.39 338.95,356.93 338.95,332.61 339.62,331.50 340.30,323.38 340.30,346.09 340.97,347.40 341.64,357.04 341.64,332.61 342.32,331.49 342.99,323.24 342.99,346.09 343.67,347.42 344.34,357.14 344.34,332.61 345.01,331.47 345.69,323.09 345.69,346.09 346.36,347.43 347.03,357.25 347.03,332.61 347.71,331.45 348.38,322.94 348.38,346.09 349.06,347.44 349.73,357.35 349.73,332.61 350.40,331.43 351.08,322.79 351.08,346.09 351.75,347.45 352.42,357.46 352.42,332.61 353.10,331.42 353.77,322.67 353.77,346.09 354.45,347.46 355.12,357.55" stroke="#f5461e" stroke-width="1.6" fill="none" stroke-linejoin="round" />
<rect x="39.40" y="334.30" width="134.75" height="9.77" fill="#f7b631"/>
<rect x="174.15" y="331.60" width="124.64" height="15.00" fill="#f7bf3e"/>
<rect x="298.79" y="335.64" width="10.78" height="8.59" fill="#f7bf3e"/>
<path d="M174.55,332.27 175.90,330.93 175.90,345.75 177.25,347.10 177.25,332.27 178.60,330.93 178.60,345.75 179.94,347.10 179.94,332.27 181.29,330.93 181.29,345.75 182.64,347.10 182.64,332.27 183.99,330.93 183.99,345.75 185.33,347.10 185.33,332.27 186.68,330.93 186.68,345.75 188.03,347.10 188.03,332.27 189.38,330.93 189.38,345.75 190.72,347.10 190.72,332.27 192.07,330.93 192.07,345.75 193.42,347.10 193.42,332.27 194.77,330.93 194.77,345.75 196.11,347.10 196.11,332.27 197.46,330.93 197.46,345.75 198.81,347.10 198.81,332.27 200.16,330.93 200.16,345.75 201.50,347.10 201.50,332.27 202.85,330.93 202.85,345.75 204.20,347.10 204.20,332.27 205.55,330.93 205.55,345.75 206.89,347.10 206.89,332.27 208.24,330.93 208.24,345.75 209.59,347.10 209.59,332.27 210.94,330.93 210.94,345.75 212.28,347.10 212.28,332.27 213.63,330.93 213.63,345.75 214.98,347.10 214.98,332.27 216.33,330.08 216.33,345.75 217.67,347.27 217.67,332.27 219.02,330.08 219.02,345.75 220.37,347.27 220.37,332.27 221.72,330.08 221.72,345.75 223.06,347.27 223.06,332.27 224.41,330.08 224.41,345.75 225.76,347.27 225.76,332.27 227.11,330.08 227.11,345.75 228.45,347.27 228.45,332.27 229.80,330.08 229.80,345.75 231.15,347.27 231.15,332.27 232.50,330.08 232.50,345.75 233.84,347.27 233.84,332.27 235.19,330.08 235.19,345.75 236.54,347.27 236.54,332.27 237.89,330.08 237.89,345.75 239.23,347.27 239.23,332.27 240.58,330.08 240.58,345.75 241.93,347.27 241.93,332.27 243.28,330.08 243.28,345.75 244.62,347.27 244.62,332.27 245.97,330.08 245.97,345.75 247.32,347.27 247.32,332.27 248.67,330.08 248.67,345.75 250.01,347.27 250.01,332.27 251.36,330.08 251.36,345.75 252.71,347.27 252.71,332.27 254.06,330.08 254.06,345.75 255.40,347.27 255.40,332.27 256.75,330.08 256.75,345.75 258.10,347.27 258.10,332.27 259.45,330.08 259.45,345.75 260.79,347.27 260.79,332.27 262.14,330.08 262.14,345.75 263.49,347.27 263.49,332.27 264.84,330.08 264.84,345.75 266.18,347.27 266.18,332.27 267.53,330.08 267.53,345.75 268.88,347.27 268.88,332.27 270.23,330.08 270.23,345.75 271.57,347.27 271.57,332.27 272.92,330.08 272.92,345.75 274.27,347.27 274.27,332.27 275.62,330.08 275.62,345.75 276.96,347.27 276.96,332.27 278.31,330.08 278.31,345.75 279.66,347.27 279.66,332.27 281.01,330.08 281.01,345.75 282.35,347.27 282.35,332.27 283.70,330.08 283.70,345.75 285.05,347.27 285.05,332.27 286.40,330.08 286.40,345.75 287.74,347.27 287.74,332.27 289.09,330.08 289.09,345.75 290.44,347.27 290.44,332.27 291.79,330.08 291.79,345.75 293.13,347.27 293.13,332.27 294.48,330.08 294.48,345.75 295.83,347.27 295.83,332.27 297.18,330.08 297.18,345.75 298.52,347.27 298.52,332.27 299.87,330.08 299.87,345.75 301.22,347.27" stroke="#f2a818" stroke-width="1.0" fill="none" stroke-linejoin="round" />
<path d="M40.75,332.63 79.82,333.28 120.25,333.45 179.54,333.45 179.55,334.30 214.57,334.30 214.57,344.07 179.55,344.07 179.54,344.41 120.25,344.41 79.82,345.08 40.75,346.06 Z" fill="#74a2e6"/>
<path d="M40.34,339.35 40.48,317.45 40.68,335.98 40.75,356.20 41.42,346.09 41.42,332.64 42.16,332.12 42.77,328.30 42.77,346.04 43.51,346.73 44.12,351.77 44.12,332.69 44.86,332.17 45.46,328.41 45.46,345.97 46.20,346.63 46.81,351.47 46.81,332.73 47.55,332.23 48.16,328.51 48.16,345.90 48.90,346.54 49.51,351.18 49.51,332.78 50.25,332.28 50.85,328.61 50.85,345.84 51.59,346.44 52.20,350.88 52.20,332.82 52.94,332.33 53.55,328.71 53.55,345.77 54.29,346.37 54.90,350.77 54.90,332.87 55.64,332.37 56.24,328.74 56.24,345.70 56.98,346.30 57.59,350.71 57.59,332.91 58.33,332.41 58.94,328.76 58.94,345.64 59.68,346.24 60.29,350.65 60.29,332.96 61.03,332.46 61.63,328.77 61.63,345.57 62.37,346.17 62.98,350.60 62.98,333.00 63.72,332.50 64.33,328.79 64.33,345.50 65.07,346.11 65.68,350.54 65.68,333.05 66.42,332.54 67.02,328.80 67.02,345.43 67.76,346.04 68.37,350.49 68.37,333.09 69.11,332.58 69.72,328.81 69.72,345.37 70.46,345.98 71.07,350.46 71.07,333.14 71.81,332.62 72.41,328.83 72.41,345.30 73.15,345.92 73.76,350.44 73.76,333.18 74.50,332.66 75.11,328.84 75.11,345.23 75.85,345.85 76.46,350.42 76.46,333.23 77.20,332.70 77.80,328.85 77.80,345.16 78.54,345.79 79.15,350.41 79.15,333.27 79.89,332.74 80.50,328.87 80.50,345.10 81.24,345.73 81.85,350.39 81.85,333.29 82.59,332.76 83.19,328.88 83.19,345.05 83.93,345.68 84.54,350.37 84.54,333.30 85.28,332.77 85.89,328.89 85.89,345.00 86.63,345.64 87.24,350.36 87.24,333.31 87.98,332.79 88.58,328.91 88.58,344.96 89.32,345.60 89.93,350.34 89.93,333.33 90.67,332.80 91.28,328.92 91.28,344.91 92.02,345.56 92.63,350.32 92.63,333.34 93.37,332.81 93.97,328.93 93.97,344.87 94.71,345.52 95.32,350.31 95.32,333.35 96.06,332.82 96.67,328.95 96.67,344.82 97.41,345.48 98.02,350.29 98.02,333.36 98.76,332.83 99.36,328.96 99.36,344.78 100.10,345.44 100.71,350.27 100.71,333.37 101.45,332.84 102.06,328.97 102.06,344.73 102.80,345.39 103.41,350.26 103.41,333.38 104.15,332.85 104.75,328.99 104.75,344.69 105.49,345.35 106.10,350.24 106.10,333.39 106.84,332.87 107.45,329.00 107.45,344.64 108.19,345.31 108.80,350.22 108.80,333.40 109.54,332.88 110.14,329.01 110.14,344.60 110.88,345.27 111.49,350.21 111.49,333.42 112.23,332.89 112.84,329.03 112.84,344.55 113.58,345.23 114.19,350.19 114.19,333.43 114.93,332.90 115.53,329.04 115.53,344.51 116.27,345.19 116.88,350.17 116.88,333.44 117.62,332.91 118.23,329.05 118.23,344.46 118.97,345.14 119.58,350.16 119.58,333.45 120.32,332.92 120.92,329.07 120.92,344.42 121.66,345.10 122.27,350.14 122.27,333.45 123.01,332.93 123.62,329.08 123.62,344.41 124.36,345.09 124.97,350.11 124.97,333.45 125.71,332.93 126.31,329.08 126.31,344.41 127.05,345.09 127.66,350.08 127.66,333.45 128.40,332.93 129.01,329.09 129.01,344.41 129.75,345.08 130.36,350.05 130.36,333.45 131.10,332.93 131.70,329.10 131.70,344.41 132.44,345.08 133.05,350.02 133.05,333.45 133.79,332.93 134.40,329.11 134.40,344.41 135.14,345.08 135.75,349.99 135.75,333.45 136.49,332.93 137.09,329.12 137.09,344.41 137.83,345.07 138.44,349.96 138.44,333.45 139.18,332.93 139.79,329.12 139.79,344.41 140.53,345.07 141.14,349.93 141.14,333.45 141.88,332.93 142.48,329.13 142.48,344.41 143.22,345.06 143.83,349.90 143.83,333.45 144.57,332.93 145.18,329.14 145.18,344.41 145.92,345.06 146.53,349.87 146.53,333.45 147.27,332.94 147.87,329.15 147.87,344.41 148.61,345.06 149.22,349.84 149.22,333.45 149.96,332.94 150.57,329.15 150.57,344.41 151.31,345.05 151.92,349.80 151.92,333.45 152.66,332.94 153.26,329.16 153.26,344.41 154.00,345.05 154.61,349.77 154.61,333.45 155.35,332.94 155.96,329.17 155.96,344.41 156.70,345.05 157.31,349.74 157.31,333.45 158.05,332.94 158.65,329.18 158.65,344.41 159.39,345.04 160.00,349.71 160.00,333.45 160.74,332.94 161.35,329.18 161.35,344.41 162.09,345.04 162.70,349.68 162.70,333.45 163.44,332.94 164.04,329.19 164.04,344.41 164.78,345.03 165.39,349.65 165.39,333.45 166.13,332.94 166.74,329.20 166.74,344.41 167.48,345.03 168.09,349.62 168.09,333.45 168.83,332.94 169.43,329.21 169.43,344.41 170.17,345.03 170.78,349.59 170.78,333.45 171.52,332.94 172.13,329.22 172.13,344.41 172.87,345.02 173.48,349.56 173.48,333.45 174.22,332.94 174.82,329.22 174.82,344.41 175.56,345.02 176.17,349.53 176.17,333.45 176.91,332.95 177.52,329.23 177.52,344.41 178.26,345.02 178.87,349.50 178.87,333.45 179.61,332.95 180.21,329.24 180.21,344.41 180.95,345.01 181.56,349.47 181.56,334.30 182.30,333.99 182.91,331.77 182.91,344.07 183.65,344.31 184.26,346.09 184.26,334.30 185.00,333.99 185.60,331.77 185.60,344.07 186.34,344.31 186.95,346.09 186.95,334.30 187.69,333.99 188.30,331.77 188.30,344.07 189.04,344.31 189.65,346.09 189.65,334.30 190.39,333.99 190.99,331.77 190.99,344.07 191.73,344.31 192.34,346.09 192.34,334.30 193.08,333.99 193.69,331.77 193.69,344.07 194.43,344.31 195.04,346.09 195.04,334.30 195.78,333.99 196.38,331.77 196.38,344.07 197.12,344.31 197.73,346.09 197.73,334.30 198.47,333.99 199.08,331.77 199.08,344.07 199.82,344.31 200.43,346.09 200.43,334.30 201.17,333.99 201.77,331.77 201.77,344.07 202.51,344.31 203.12,346.09 203.12,334.30 203.86,333.99 204.47,331.77 204.47,344.07 205.21,344.31 205.82,346.09 205.82,334.30 206.56,333.99 207.16,331.77 207.16,344.07 207.90,344.31 208.51,346.09 208.51,334.30 209.25,333.99 209.86,331.77 209.86,344.07 210.60,344.31 211.21,346.09 211.21,334.30 211.95,333.99 212.55,331.77 212.55,344.07 213.29,344.31 213.90,346.09 213.90,334.30 214.64,333.99 215.25,331.77 215.25,344.07 215.99,344.31 216.60,346.09" stroke="#4a80da" stroke-width="1.15" fill="none" stroke-linejoin="round" />
</g>
<rect x="39.40" y="288.80" width="313.40" height="101.10" fill="none" stroke="#2a2a2a" stroke-width="1.5"/>
<path d="M73.09,389.90v-1.5M106.78,389.90v-2.6M140.46,389.90v-1.5M174.15,389.90v-2.6M207.84,389.90v-1.5M241.53,389.90v-2.6M275.21,389.90v-1.5M308.90,389.90v-2.6M342.59,389.90v-1.5M39.40,381.48h1.5M39.40,373.05h2.6M39.40,364.62h1.5M39.40,356.20h2.6M39.40,347.78h1.5M39.40,339.35h2.6M39.40,330.93h1.5M39.40,322.50h2.6M39.40,314.08h1.5M39.40,305.65h2.6M39.40,297.23h1.5" stroke="#1a1a1a" stroke-width="0.9" fill="none"/>
<text x="39.40" y="396.60" font-size="7.5" text-anchor="middle" dominant-baseline="central" fill="#151515" stroke="#151515" stroke-width="0.25" font-family="Liberation Serif" font-weight="bold">0</text>
<text x="106.78" y="396.60" font-size="7.5" text-anchor="middle" dominant-baseline="central" fill="#151515" stroke="#151515" stroke-width="0.25" font-family="Liberation Serif" font-weight="bold">50</text>
<text x="174.15" y="396.60" font-size="7.5" text-anchor="middle" dominant-baseline="central" fill="#151515" stroke="#151515" stroke-width="0.25" font-family="Liberation Serif" font-weight="bold">100</text>
<text x="241.53" y="396.60" font-size="7.5" text-anchor="middle" dominant-baseline="central" fill="#151515" stroke="#151515" stroke-width="0.25" font-family="Liberation Serif" font-weight="bold">150</text>
<text x="308.90" y="396.60" font-size="7.5" text-anchor="middle" dominant-baseline="central" fill="#151515" stroke="#151515" stroke-width="0.25" font-family="Liberation Serif" font-weight="bold">200</text>
<text x="37.00" y="389.90" font-size="7.3" text-anchor="end" dominant-baseline="central" fill="#151515" stroke="#151515" stroke-width="0.25" font-family="Liberation Serif" font-weight="bold">-0.3</text>
<text x="37.00" y="373.05" font-size="7.3" text-anchor="end" dominant-baseline="central" fill="#151515" stroke="#151515" stroke-width="0.25" font-family="Liberation Serif" font-weight="bold">-0.2</text>
<text x="37.00" y="356.20" font-size="7.3" text-anchor="end" dominant-baseline="central" fill="#151515" stroke="#151515" stroke-width="0.25" font-family="Liberation Serif" font-weight="bold">-0.1</text>
<text x="37.00" y="339.35" font-size="7.3" text-anchor="end" dominant-baseline="central" fill="#151515" stroke="#151515" stroke-width="0.25" font-family="Liberation Serif" font-weight="bold">0.0</text>
<text x="37.00" y="322.50" font-size="7.3" text-anchor="end" dominant-baseline="central" fill="#151515" stroke="#151515" stroke-width="0.25" font-family="Liberation Serif" font-weight="bold">0.1</text>
<text x="37.00" y="305.65" font-size="7.3" text-anchor="end" dominant-baseline="central" fill="#151515" stroke="#151515" stroke-width="0.25" font-family="Liberation Serif" font-weight="bold">0.2</text>
<text x="37.00" y="288.80" font-size="7.3" text-anchor="end" dominant-baseline="central" fill="#151515" stroke="#151515" stroke-width="0.25" font-family="Liberation Serif" font-weight="bold">0.3</text>
<text x="195.70" y="408.60" font-size="7.8" text-anchor="middle" dominant-baseline="central" fill="#151515" stroke="#151515" stroke-width="0.25" font-family="Liberation Serif" font-weight="bold">Time (h)</text>
<text x="17.60" y="344.70" font-size="7.6" text-anchor="middle" dominant-baseline="central" fill="#151515" stroke="#151515" stroke-width="0.25" font-family="Liberation Serif" font-weight="bold" transform="rotate(-90 17.60 344.70)">Voltage (V)</text>
<text x="58.40" y="375.40" font-size="8.0" text-anchor="start" dominant-baseline="central" fill="#151515" stroke="#151515" stroke-width="0.25" font-family="Liberation Serif" font-weight="bold" xml:space="preserve"><tspan>4 mA cm</tspan><tspan font-size="4.4" dy="-3.04">-2</tspan><tspan dy="3.04">&#160; 4 mAh cm</tspan><tspan font-size="4.4" dy="-3.04">-2</tspan></text>
<line x1="52.50" y1="298.20" x2="64.00" y2="298.20" stroke="#4a80da" stroke-width="1.5" />
<text x="68.30" y="298.20" font-size="7.6" text-anchor="start" dominant-baseline="central" fill="#151515" stroke="#151515" stroke-width="0.25" font-family="Liberation Serif" font-weight="bold">Pristine GF</text>
<line x1="52.50" y1="308.00" x2="64.00" y2="308.00" stroke="#f5aa1c" stroke-width="1.5" />
<text x="68.30" y="308.00" font-size="7.6" text-anchor="start" dominant-baseline="central" fill="#151515" stroke="#151515" stroke-width="0.25" font-family="Liberation Serif" font-weight="bold">PDA/ GF</text>
<line x1="52.50" y1="317.50" x2="64.00" y2="317.50" stroke="#f5461e" stroke-width="1.5" />
<text x="68.30" y="317.50" font-size="7.6" text-anchor="start" dominant-baseline="central" fill="#151515" stroke="#151515" stroke-width="0.25" font-family="Liberation Serif" font-weight="bold">Cu-PDA/GF</text>
<rect x="195.5" y="319.3" width="11.7" height="39.4" fill="none" stroke="#3d7cc4" stroke-width="1.3" stroke-dasharray="3.5,2"/>
<line x1="207.20" y1="319.30" x2="370.00" y2="287.50" stroke="#4a7fcf" stroke-width="1.6" stroke-dasharray="10.5,4.5"/>
<line x1="207.20" y1="358.70" x2="370.00" y2="390.50" stroke="#4a7fcf" stroke-width="1.6" stroke-dasharray="10.5,4.5"/>
<defs><clipPath id="cer"><rect x="397.0" y="288.7" width="139.70000000000005" height="101.19999999999999"/></clipPath></defs>
<g clip-path="url(#cer)">
<path d="M390.01,354.48 393.51,355.49 395.60,357.18 396.51,359.54 397.00,362.24 397.00,323.78 400.49,322.77 402.59,321.09 403.50,318.72 403.99,315.69 403.99,354.48 407.48,355.49 409.57,357.18 410.48,359.54 410.97,362.24 410.97,323.78 414.46,322.77 416.56,321.09 417.47,318.72 417.95,315.69 417.95,354.48 421.45,355.49 423.54,357.18 424.45,359.54 424.94,362.24 424.94,323.78 428.43,322.77 430.53,321.09 431.44,318.72 431.93,315.69 431.93,354.48 435.42,355.49 437.51,357.18 438.42,359.54 438.91,362.24 438.91,323.78 442.40,322.77 444.50,321.09 445.41,318.72 445.90,315.69 445.90,354.48 449.39,355.49 451.48,357.18 452.39,359.54 452.88,362.24 452.88,323.78 456.37,322.77 458.47,321.09 459.38,318.72 459.87,315.69 459.87,354.48 463.36,355.49 465.45,357.18 466.36,359.54 466.85,362.24 466.85,323.78 470.34,322.77 472.44,321.09 473.35,318.72 473.84,315.69 473.84,354.48 477.33,355.49 479.42,357.18 480.33,359.54 480.82,362.24 480.82,323.78 484.31,322.77 486.41,321.09 487.32,318.72 487.81,315.69 487.81,354.48 491.30,355.49 493.39,357.18 494.30,359.54 494.79,362.24 494.79,323.78 498.28,322.77 500.38,321.09 501.29,318.72 501.78,315.69 501.78,354.48 505.27,355.49 507.36,357.18 508.27,359.54 508.76,362.24 508.76,323.78 512.25,322.77 514.35,321.09 515.26,318.72 515.75,315.69 515.75,354.48 519.24,355.49 521.33,357.18 522.24,359.54 522.73,362.24 522.73,323.78 526.22,322.77 528.32,321.09 529.23,318.72 529.72,315.69 529.72,354.48 533.21,355.49 535.30,357.18 536.21,359.54 536.70,362.24 536.70,323.78 540.19,322.77 542.29,321.09 543.20,318.72 543.69,315.69" stroke="#f5461e" stroke-width="1.15" fill="none" stroke-linejoin="round" />
<path d="M397.00,333.90 397.98,328.51 400.00,325.81 402.03,321.09 403.29,323.11 404.19,327.16 404.19,349.08 406.57,349.08 406.78,345.03 410.48,344.36 410.48,329.86 413.21,321.09 415.79,329.86 417.12,333.90 417.82,333.90 417.82,345.71 420.40,349.76 424.80,349.76 424.80,329.86 426.41,327.16 428.29,333.23 430.32,334.24 432.27,334.24 432.27,343.01 438.91,343.01 438.91,335.59 445.90,335.59 445.90,343.01 452.88,343.01 452.88,337.28 454.28,337.28 454.28,333.23 456.37,333.23 456.72,328.51 459.87,328.51 459.87,350.43 466.85,350.43 466.85,328.84 473.84,328.84 473.84,349.08 480.82,349.08 480.82,328.84 487.81,328.84 487.81,349.08 494.79,349.08 494.79,328.84 501.78,328.84 501.78,349.08 508.76,349.08 508.76,328.84 515.75,328.84 515.75,349.08 522.73,349.08 522.73,328.84 529.72,328.84 529.72,349.08 536.70,349.08 536.70,328.84 543.69,328.84 543.69,349.08 550.67,349.08" stroke="#4a80da" stroke-width="1.15" fill="none" stroke-linejoin="round" />
</g>
<rect x="397.00" y="288.70" width="139.70" height="101.20" fill="none" stroke="#2a2a2a" stroke-width="1.5"/>
<path d="M414.46,389.90v-1.5M431.93,389.90v-2.6M449.39,389.90v-1.5M466.85,389.90v-2.6M484.31,389.90v-1.5M501.78,389.90v-2.6M519.24,389.90v-1.5M397.00,381.46h1.5M397.00,373.03h2.6M397.00,364.60h1.5M397.00,356.17h2.6M397.00,347.73h1.5M397.00,339.30h2.6M397.00,330.87h1.5M397.00,322.44h2.6M397.00,314.00h1.5M397.00,305.57h2.6M397.00,297.14h1.5" stroke="#1a1a1a" stroke-width="0.9" fill="none"/>
<text x="397.00" y="395.90" font-size="7.6" text-anchor="middle" dominant-baseline="central" fill="#151515" stroke="#151515" stroke-width="0.25" font-family="Liberation Serif" font-weight="bold">110</text>
<text x="431.93" y="395.90" font-size="7.6" text-anchor="middle" dominant-baseline="central" fill="#151515" stroke="#151515" stroke-width="0.25" font-family="Liberation Serif" font-weight="bold">115</text>
<text x="466.85" y="395.90" font-size="7.6" text-anchor="middle" dominant-baseline="central" fill="#151515" stroke="#151515" stroke-width="0.25" font-family="Liberation Serif" font-weight="bold">120</text>
<text x="501.78" y="395.90" font-size="7.6" text-anchor="middle" dominant-baseline="central" fill="#151515" stroke="#151515" stroke-width="0.25" font-family="Liberation Serif" font-weight="bold">125</text>
<text x="536.70" y="395.90" font-size="7.6" text-anchor="middle" dominant-baseline="central" fill="#151515" stroke="#151515" stroke-width="0.25" font-family="Liberation Serif" font-weight="bold">130</text>
<text x="394.60" y="389.90" font-size="7.6" text-anchor="end" dominant-baseline="central" fill="#151515" stroke="#151515" stroke-width="0.25" font-family="Liberation Serif" font-weight="bold">-0.15</text>
<text x="394.60" y="373.03" font-size="7.6" text-anchor="end" dominant-baseline="central" fill="#151515" stroke="#151515" stroke-width="0.25" font-family="Liberation Serif" font-weight="bold">-0.10</text>
<text x="394.60" y="356.17" font-size="7.6" text-anchor="end" dominant-baseline="central" fill="#151515" stroke="#151515" stroke-width="0.25" font-family="Liberation Serif" font-weight="bold">-0.05</text>
<text x="394.60" y="339.30" font-size="7.6" text-anchor="end" dominant-baseline="central" fill="#151515" stroke="#151515" stroke-width="0.25" font-family="Liberation Serif" font-weight="bold">0.00</text>
<text x="394.60" y="322.44" font-size="7.6" text-anchor="end" dominant-baseline="central" fill="#151515" stroke="#151515" stroke-width="0.25" font-family="Liberation Serif" font-weight="bold">0.05</text>
<text x="394.60" y="305.57" font-size="7.6" text-anchor="end" dominant-baseline="central" fill="#151515" stroke="#151515" stroke-width="0.25" font-family="Liberation Serif" font-weight="bold">0.10</text>
<text x="394.60" y="288.70" font-size="7.6" text-anchor="end" dominant-baseline="central" fill="#151515" stroke="#151515" stroke-width="0.25" font-family="Liberation Serif" font-weight="bold">0.15</text>
<text x="466.70" y="404.20" font-size="7.8" text-anchor="middle" dominant-baseline="central" fill="#151515" stroke="#151515" stroke-width="0.25" font-family="Liberation Serif" font-weight="bold">Time (h)</text>
<text x="370.60" y="336.10" font-size="7.9" text-anchor="middle" dominant-baseline="central" fill="#151515" stroke="#151515" stroke-width="0.25" font-family="Liberation Serif" font-weight="bold" transform="rotate(-90 370.60 336.10)" xml:space="preserve"><tspan>Voltage (V, vs. Zn</tspan><tspan font-size="4.345000000000001" dy="-3.00">2+</tspan><tspan dy="3.00">/Zn)</tspan></text>
</svg>
</body></html>
